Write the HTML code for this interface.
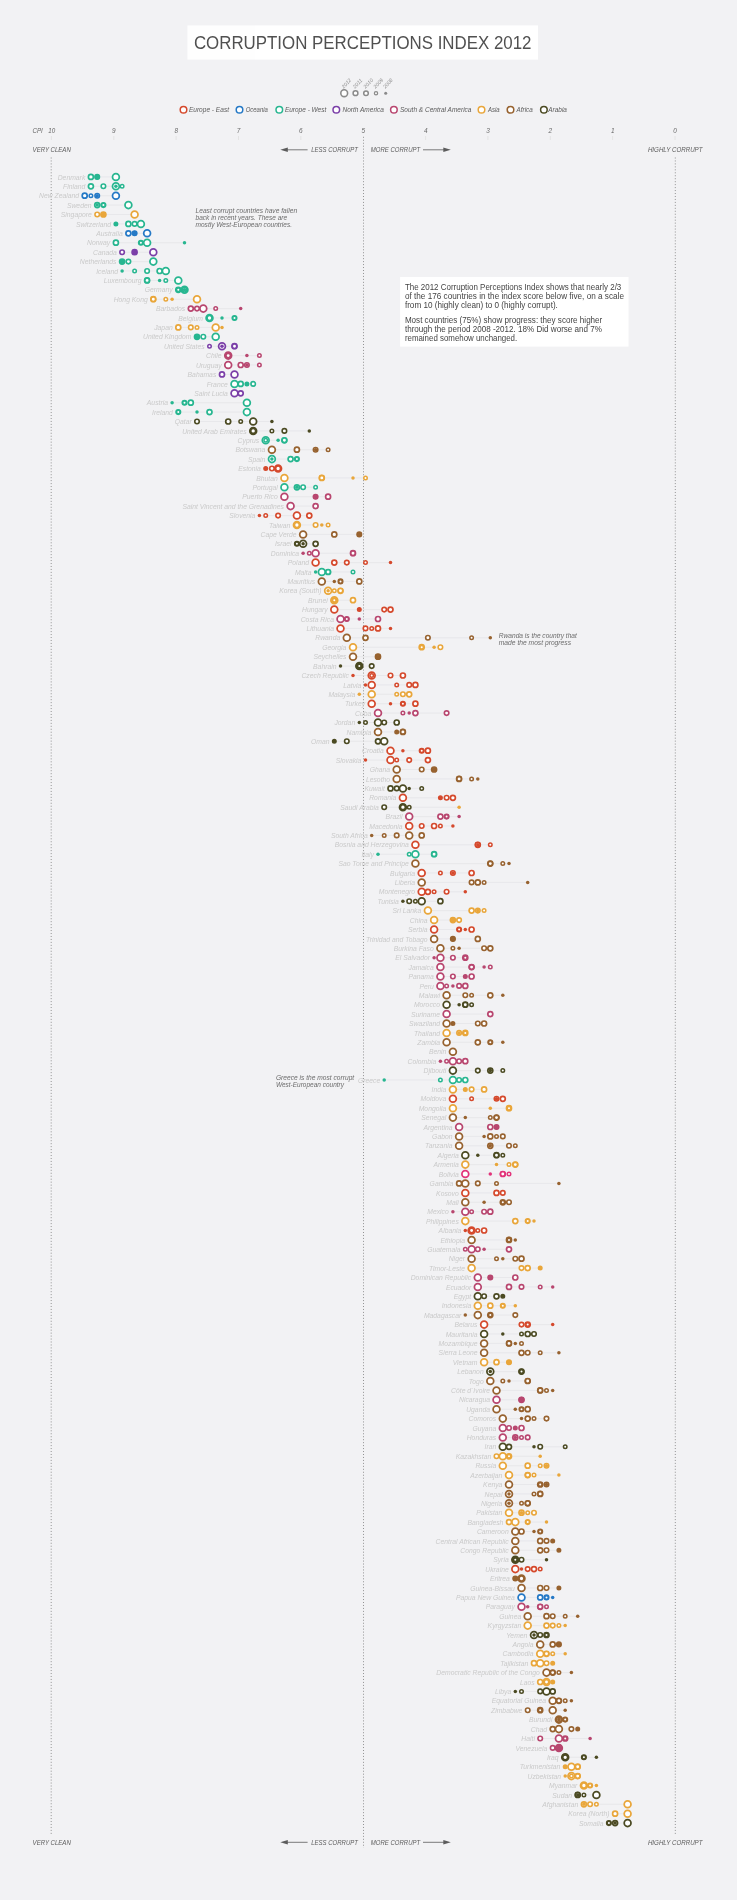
<!DOCTYPE html><html><head><meta charset="utf-8"><title>Corruption Perceptions Index 2012</title>
<style>html,body{margin:0;padding:0;background:#f2f2f4}svg{display:block;will-change:transform;opacity:0.999}text{font-family:"Liberation Sans",sans-serif}</style></head><body>
<svg width="737" height="1900" viewBox="0 0 737 1900">
<rect width="737" height="1900" fill="#f2f2f4"/>
<rect x="187.4" y="25.4" width="350.6" height="34.2" fill="#fff"/>
<text x="193.9" y="48.9" font-size="18" textLength="337.6" lengthAdjust="spacingAndGlyphs" fill="#505050">CORRUPTION PERCEPTIONS INDEX 2012</text>
<circle cx="344.2" cy="93.2" r="3.40" fill="#fff" stroke="#8a8a8a" stroke-width="1.6"/>
<circle cx="355.5" cy="93.2" r="2.40" fill="#fff" stroke="#8a8a8a" stroke-width="1.5"/>
<circle cx="366.0" cy="93.2" r="2.30" fill="#fff" stroke="#8a8a8a" stroke-width="1.5"/>
<circle cx="376.0" cy="93.2" r="1.60" fill="#fff" stroke="#8a8a8a" stroke-width="1.3"/>
<circle cx="385.7" cy="93.2" r="1.5" fill="#8a8a8a"/>
<text transform="translate(343.7,88.7) rotate(-46)" font-size="5.1" font-style="italic" fill="#8a8a8a">2012</text>
<text transform="translate(355.0,88.7) rotate(-46)" font-size="5.1" font-style="italic" fill="#8a8a8a">2011</text>
<text transform="translate(365.5,88.7) rotate(-46)" font-size="5.1" font-style="italic" fill="#8a8a8a">2010</text>
<text transform="translate(375.5,88.7) rotate(-46)" font-size="5.1" font-style="italic" fill="#8a8a8a">2009</text>
<text transform="translate(385.2,88.7) rotate(-46)" font-size="5.1" font-style="italic" fill="#8a8a8a">2008</text>
<circle cx="183.5" cy="109.8" r="3.3" fill="#fff" stroke="#d5492c" stroke-width="1.5"/>
<text x="188.9" y="112.3" font-size="7.1" font-style="italic" textLength="40.1" lengthAdjust="spacingAndGlyphs" fill="#5c5c5c">Europe - East</text>
<circle cx="239.5" cy="109.8" r="3.3" fill="#fff" stroke="#2579c6" stroke-width="1.5"/>
<text x="245.7" y="112.3" font-size="7.1" font-style="italic" textLength="22.2" lengthAdjust="spacingAndGlyphs" fill="#5c5c5c">Oceania</text>
<circle cx="279.3" cy="109.8" r="3.3" fill="#fff" stroke="#27b690" stroke-width="1.5"/>
<text x="284.9" y="112.3" font-size="7.1" font-style="italic" textLength="41.4" lengthAdjust="spacingAndGlyphs" fill="#5c5c5c">Europe - West</text>
<circle cx="336.3" cy="109.8" r="3.3" fill="#fff" stroke="#7b3fa8" stroke-width="1.5"/>
<text x="342.5" y="112.3" font-size="7.1" font-style="italic" textLength="41.4" lengthAdjust="spacingAndGlyphs" fill="#5c5c5c">North America</text>
<circle cx="393.9" cy="109.8" r="3.3" fill="#fff" stroke="#b8466f" stroke-width="1.5"/>
<text x="400.0" y="112.3" font-size="7.1" font-style="italic" textLength="71.5" lengthAdjust="spacingAndGlyphs" fill="#5c5c5c">South &amp; Central America</text>
<circle cx="481.5" cy="109.8" r="3.3" fill="#fff" stroke="#e9a63a" stroke-width="1.5"/>
<text x="487.9" y="112.3" font-size="7.1" font-style="italic" textLength="11.7" lengthAdjust="spacingAndGlyphs" fill="#5c5c5c">Asia</text>
<circle cx="510.5" cy="109.8" r="3.3" fill="#fff" stroke="#97622f" stroke-width="1.5"/>
<text x="516.6" y="112.3" font-size="7.1" font-style="italic" textLength="16.1" lengthAdjust="spacingAndGlyphs" fill="#5c5c5c">Africa</text>
<circle cx="543.9" cy="109.8" r="3.3" fill="#fff" stroke="#4b4a22" stroke-width="1.5"/>
<text x="548.3" y="112.3" font-size="7.1" font-style="italic" textLength="18.6" lengthAdjust="spacingAndGlyphs" fill="#5c5c5c">Arabia</text>
<text x="32.5" y="133.2" font-size="7.4" font-style="italic" textLength="10.3" lengthAdjust="spacingAndGlyphs" fill="#686868">CPI</text>
<text x="673.3" y="133.2" font-size="7.4" font-style="italic" textLength="3.6" lengthAdjust="spacingAndGlyphs" fill="#686868">0</text>
<line x1="675.0" y1="136" x2="675.0" y2="140" stroke="#e0e0e0" stroke-width="0.8"/>
<text x="610.9" y="133.2" font-size="7.4" font-style="italic" textLength="3.6" lengthAdjust="spacingAndGlyphs" fill="#686868">1</text>
<line x1="612.6" y1="136" x2="612.6" y2="140" stroke="#e0e0e0" stroke-width="0.8"/>
<text x="548.6" y="133.2" font-size="7.4" font-style="italic" textLength="3.6" lengthAdjust="spacingAndGlyphs" fill="#686868">2</text>
<line x1="550.3" y1="136" x2="550.3" y2="140" stroke="#e0e0e0" stroke-width="0.8"/>
<text x="486.2" y="133.2" font-size="7.4" font-style="italic" textLength="3.6" lengthAdjust="spacingAndGlyphs" fill="#686868">3</text>
<line x1="487.9" y1="136" x2="487.9" y2="140" stroke="#e0e0e0" stroke-width="0.8"/>
<text x="423.9" y="133.2" font-size="7.4" font-style="italic" textLength="3.6" lengthAdjust="spacingAndGlyphs" fill="#686868">4</text>
<line x1="425.6" y1="136" x2="425.6" y2="140" stroke="#e0e0e0" stroke-width="0.8"/>
<text x="361.5" y="133.2" font-size="7.4" font-style="italic" textLength="3.6" lengthAdjust="spacingAndGlyphs" fill="#686868">5</text>
<text x="299.1" y="133.2" font-size="7.4" font-style="italic" textLength="3.6" lengthAdjust="spacingAndGlyphs" fill="#686868">6</text>
<line x1="300.8" y1="136" x2="300.8" y2="140" stroke="#e0e0e0" stroke-width="0.8"/>
<text x="236.8" y="133.2" font-size="7.4" font-style="italic" textLength="3.6" lengthAdjust="spacingAndGlyphs" fill="#686868">7</text>
<line x1="238.5" y1="136" x2="238.5" y2="140" stroke="#e0e0e0" stroke-width="0.8"/>
<text x="174.4" y="133.2" font-size="7.4" font-style="italic" textLength="3.6" lengthAdjust="spacingAndGlyphs" fill="#686868">8</text>
<line x1="176.1" y1="136" x2="176.1" y2="140" stroke="#e0e0e0" stroke-width="0.8"/>
<text x="112.1" y="133.2" font-size="7.4" font-style="italic" textLength="3.6" lengthAdjust="spacingAndGlyphs" fill="#686868">9</text>
<line x1="113.8" y1="136" x2="113.8" y2="140" stroke="#e0e0e0" stroke-width="0.8"/>
<text x="48.3" y="133.2" font-size="7.4" font-style="italic" textLength="6.9" lengthAdjust="spacingAndGlyphs" fill="#686868">10</text>
<line x1="51.4" y1="136" x2="51.4" y2="140" stroke="#e0e0e0" stroke-width="0.8"/>
<line x1="51.2" y1="157.5" x2="51.2" y2="1835.6" stroke="#929292" stroke-width="1" stroke-dasharray="1 1.96"/>
<line x1="363.5" y1="136.8" x2="363.5" y2="1847.8" stroke="#929292" stroke-width="1" stroke-dasharray="1 1.96"/>
<line x1="675.3" y1="157.5" x2="675.3" y2="1835.6" stroke="#929292" stroke-width="1" stroke-dasharray="1 1.96"/>
<text x="32.6" y="152.3" font-size="7.8" font-style="italic" textLength="38.2" lengthAdjust="spacingAndGlyphs" fill="#5c5c5c">VERY CLEAN</text>
<text x="311.2" y="152.3" font-size="7.8" font-style="italic" textLength="46.7" lengthAdjust="spacingAndGlyphs" fill="#5c5c5c">LESS CORRUPT</text>
<text x="370.7" y="152.3" font-size="7.8" font-style="italic" textLength="49.5" lengthAdjust="spacingAndGlyphs" fill="#5c5c5c">MORE CORRUPT</text>
<text x="647.9" y="152.3" font-size="7.8" font-style="italic" textLength="54.6" lengthAdjust="spacingAndGlyphs" fill="#5c5c5c">HIGHLY CORRUPT</text>
<line x1="286" y1="149.8" x2="307.6" y2="149.8" stroke="#5c5c5c" stroke-width="0.8"/>
<path d="M280.3 149.8 l7.5 -2.2 v4.4z" fill="#5c5c5c"/>
<line x1="423" y1="149.8" x2="445" y2="149.8" stroke="#5c5c5c" stroke-width="0.8"/>
<path d="M450.8 149.8 l-7.5 -2.2 v4.4z" fill="#5c5c5c"/>
<text x="32.6" y="1844.8" font-size="7.8" font-style="italic" textLength="38.2" lengthAdjust="spacingAndGlyphs" fill="#5c5c5c">VERY CLEAN</text>
<text x="311.2" y="1844.8" font-size="7.8" font-style="italic" textLength="46.7" lengthAdjust="spacingAndGlyphs" fill="#5c5c5c">LESS CORRUPT</text>
<text x="370.7" y="1844.8" font-size="7.8" font-style="italic" textLength="49.5" lengthAdjust="spacingAndGlyphs" fill="#5c5c5c">MORE CORRUPT</text>
<text x="647.9" y="1844.8" font-size="7.8" font-style="italic" textLength="54.6" lengthAdjust="spacingAndGlyphs" fill="#5c5c5c">HIGHLY CORRUPT</text>
<line x1="286" y1="1842.3" x2="307.6" y2="1842.3" stroke="#5c5c5c" stroke-width="0.8"/>
<path d="M280.3 1842.3 l7.5 -2.2 v4.4z" fill="#5c5c5c"/>
<line x1="423" y1="1842.3" x2="445" y2="1842.3" stroke="#5c5c5c" stroke-width="0.8"/>
<path d="M450.8 1842.3 l-7.5 -2.2 v4.4z" fill="#5c5c5c"/>
<text x="195.5" y="212.9" font-size="6.9" font-style="italic" textLength="101.6" lengthAdjust="spacingAndGlyphs" fill="#6c6c6c">Least corrupt countries have fallen</text>
<text x="195.5" y="220.0" font-size="6.9" font-style="italic" textLength="91.7" lengthAdjust="spacingAndGlyphs" fill="#6c6c6c">back in recent years. These are</text>
<text x="195.5" y="227.1" font-size="6.9" font-style="italic" textLength="96.6" lengthAdjust="spacingAndGlyphs" fill="#6c6c6c">mostly West-European countries.</text>
<text x="498.8" y="637.8" font-size="6.9" font-style="italic" textLength="78.0" lengthAdjust="spacingAndGlyphs" fill="#6c6c6c">Rwanda is the country that</text>
<text x="498.8" y="644.9" font-size="6.9" font-style="italic" textLength="72.2" lengthAdjust="spacingAndGlyphs" fill="#6c6c6c">made the most progress</text>
<text x="275.9" y="1079.9" font-size="6.9" font-style="italic" textLength="78.3" lengthAdjust="spacingAndGlyphs" fill="#6c6c6c">Greece is the most corrupt</text>
<text x="275.9" y="1087.0" font-size="6.9" font-style="italic" textLength="68.1" lengthAdjust="spacingAndGlyphs" fill="#6c6c6c">West-European country</text>
<rect x="400.1" y="277.0" width="228.4" height="69.6" fill="#fff"/>
<text x="404.9" y="289.9" font-size="8.6" textLength="216.4" lengthAdjust="spacingAndGlyphs" fill="#444">The 2012 Corruption Perceptions Index shows that nearly 2/3</text>
<text x="404.9" y="298.7" font-size="8.6" textLength="219.1" lengthAdjust="spacingAndGlyphs" fill="#444">of the 176 countries in the index score below five, on a scale</text>
<text x="404.9" y="307.5" font-size="8.6" textLength="153.0" lengthAdjust="spacingAndGlyphs" fill="#444">from 10 (highly clean) to 0 (highly corrupt).</text>
<text x="404.9" y="323.1" font-size="8.6" textLength="197.4" lengthAdjust="spacingAndGlyphs" fill="#444">Most countries (75%) show progress: they score higher</text>
<text x="404.9" y="331.9" font-size="8.6" textLength="197.1" lengthAdjust="spacingAndGlyphs" fill="#444">through the period 2008 -2012. 18% Did worse and 7%</text>
<text x="404.9" y="340.7" font-size="8.6" textLength="112.3" lengthAdjust="spacingAndGlyphs" fill="#444">remained somehow unchanged.</text>
<path d="M90.9 176.9H115.9M90.9 186.3H122.1M84.7 195.7H115.9M97.2 205.1H128.4M97.2 214.5H134.6M115.9 223.9H140.9M128.4 233.3H147.1M115.9 242.7H184.5M122.1 252.2H153.3M122.1 261.6H153.3M122.1 271.0H165.8M147.1 280.4H178.3M178.3 289.8H184.5M153.3 299.2H197.0M190.8 308.6H240.7M209.5 318.0H234.5M178.3 327.4H222.0M197.0 336.8H215.7M209.5 346.2H234.5M228.2 355.6H259.4M228.2 365.0H259.4M222.0 374.4H234.5M234.5 383.9H253.2M234.5 393.3H240.7M172.1 402.7H246.9M178.3 412.1H246.9M197.0 421.5H271.9M253.2 430.9H309.3M265.7 440.3H284.4M271.9 449.7H328.1M271.9 459.1H296.9M265.7 468.5H278.1M284.4 477.9H365.5M284.4 487.3H315.6M284.4 496.7H328.1M290.6 506.1H315.6M259.4 515.6H309.3M296.9 525.0H328.1M303.1 534.4H359.3M296.9 543.8H315.6M303.1 553.2H353.0M315.6 562.6H390.5M315.6 572.0H353.0M321.8 581.4H359.3M328.1 590.8H340.5M334.3 600.2H353.0M334.3 609.6H390.5M340.5 619.0H378.0M340.5 628.4H390.5M346.8 637.8H490.3M353.0 647.2H440.4M353.0 656.7H378.0M340.5 666.1H371.7M353.0 675.5H402.9M365.5 684.9H415.4M359.3 694.3H409.2M371.7 703.7H415.4M378.0 713.1H446.6M359.3 722.5H396.7M378.0 731.9H402.9M334.3 741.3H384.2M390.5 750.7H427.9M365.5 760.1H427.9M396.7 769.5H434.1M396.7 778.9H477.8M390.5 788.4H421.7M402.9 797.8H452.9M384.2 807.2H459.1M409.2 816.6H459.1M409.2 826.0H452.9M371.7 835.4H421.7M415.4 844.8H490.3M378.0 854.2H434.1M415.4 863.6H509.0M421.7 873.0H471.6M421.7 882.4H527.7M421.7 891.8H465.3M402.9 901.2H440.4M427.9 910.6H484.1M434.1 920.1H459.1M434.1 929.5H471.6M434.1 938.9H477.8M440.4 948.3H490.3M434.1 957.7H465.3M440.4 967.1H490.3M440.4 976.5H471.6M440.4 985.9H465.3M446.6 995.3H502.8M446.6 1004.7H471.6M446.6 1014.1H490.3M446.6 1023.5H484.1M446.6 1032.9H465.3M446.6 1042.3H502.8M440.4 1061.2H465.3M452.9 1070.6H502.8M384.2 1080.0H465.3M452.9 1089.4H484.1M452.9 1098.8H502.8M452.9 1108.2H509.0M452.9 1117.6H496.5M459.1 1127.0H496.5M459.1 1136.4H502.8M459.1 1145.8H515.3M465.3 1155.2H502.8M465.3 1164.6H515.3M465.3 1174.0H509.0M459.1 1183.4H558.9M465.3 1192.9H502.8M465.3 1202.3H509.0M452.9 1211.7H490.3M465.3 1221.1H534.0M465.3 1230.5H484.1M471.6 1239.9H515.3M465.3 1249.3H509.0M471.6 1258.7H521.5M471.6 1268.1H540.2M477.8 1277.5H515.3M477.8 1286.9H552.7M477.8 1296.3H502.8M477.8 1305.7H515.3M465.3 1315.1H515.3M484.1 1324.6H552.7M484.1 1334.0H534.0M484.1 1343.4H521.5M484.1 1352.8H558.9M484.1 1362.2H509.0M490.3 1371.6H521.5M490.3 1381.0H527.7M496.5 1390.4H552.7M496.5 1399.8H521.5M496.5 1409.2H527.7M502.8 1418.6H546.5M502.8 1428.0H521.5M502.8 1437.4H527.7M502.8 1446.8H565.2M496.5 1456.3H540.2M502.8 1465.7H546.5M509.0 1475.1H558.9M509.0 1484.5H546.5M509.0 1493.9H540.2M509.0 1503.3H527.7M509.0 1512.7H534.0M509.0 1522.1H546.5M515.3 1531.5H540.2M515.3 1540.9H552.7M515.3 1550.3H558.9M515.3 1559.7H546.5M515.3 1569.1H540.2M515.3 1578.5H521.5M521.5 1588.0H558.9M521.5 1597.4H552.7M521.5 1606.8H546.5M527.7 1616.2H577.7M527.7 1625.6H565.2M534.0 1635.0H546.5M540.2 1644.4H558.9M540.2 1653.8H565.2M534.0 1663.2H552.7M546.5 1672.6H571.4M540.2 1682.0H552.7M515.3 1691.4H552.7M552.7 1700.8H571.4M527.7 1710.2H565.2M558.9 1719.6H565.2M552.7 1729.1H577.7M540.2 1738.5H590.1M552.7 1747.9H558.9M565.2 1757.3H596.4M565.2 1766.7H577.7M565.2 1776.1H577.7M583.9 1785.5H596.4M577.7 1794.9H596.4M583.9 1804.3H627.6M615.1 1813.7H627.6M608.9 1823.1H627.6" stroke="#e4e4e6" stroke-width="0.7" fill="none"/>
<g font-size="7.6" font-style="italic" fill="#cacaca" text-anchor="end" lengthAdjust="spacingAndGlyphs">
<text lengthAdjust="spacingAndGlyphs" x="85.3" y="179.5" textLength="27.6">Denmark</text>
<text lengthAdjust="spacingAndGlyphs" x="85.3" y="188.9" textLength="22.3">Finland</text>
<text lengthAdjust="spacingAndGlyphs" x="79.1" y="198.3" textLength="40.1">New Zealand</text>
<text lengthAdjust="spacingAndGlyphs" x="91.5" y="207.7" textLength="24.6">Sweden</text>
<text lengthAdjust="spacingAndGlyphs" x="91.8" y="217.1" textLength="31.0">Singapore</text>
<text lengthAdjust="spacingAndGlyphs" x="111.1" y="226.5" textLength="35.2">Switzerland</text>
<text lengthAdjust="spacingAndGlyphs" x="122.7" y="235.9" textLength="26.5">Australia</text>
<text lengthAdjust="spacingAndGlyphs" x="110.2" y="245.3" textLength="23.1">Norway</text>
<text lengthAdjust="spacingAndGlyphs" x="116.8" y="254.8" textLength="23.8">Canada</text>
<text lengthAdjust="spacingAndGlyphs" x="116.5" y="264.2" textLength="36.7">Netherlands</text>
<text lengthAdjust="spacingAndGlyphs" x="118.1" y="273.6" textLength="21.9">Iceland</text>
<text lengthAdjust="spacingAndGlyphs" x="141.5" y="283.0" textLength="37.8">Luxembourg</text>
<text lengthAdjust="spacingAndGlyphs" x="172.7" y="292.4" textLength="28.0">Germany</text>
<text lengthAdjust="spacingAndGlyphs" x="147.7" y="301.8" textLength="34.0">Hong Kong</text>
<text lengthAdjust="spacingAndGlyphs" x="185.1" y="311.2" textLength="29.1">Barbados</text>
<text lengthAdjust="spacingAndGlyphs" x="202.9" y="320.6" textLength="24.6">Belgium</text>
<text lengthAdjust="spacingAndGlyphs" x="172.7" y="330.0" textLength="18.5">Japan</text>
<text lengthAdjust="spacingAndGlyphs" x="191.4" y="339.4" textLength="48.4">United Kingdom</text>
<text lengthAdjust="spacingAndGlyphs" x="204.7" y="348.8" textLength="40.8">United States</text>
<text lengthAdjust="spacingAndGlyphs" x="221.6" y="358.2" textLength="15.5">Chile</text>
<text lengthAdjust="spacingAndGlyphs" x="221.6" y="367.6" textLength="25.7">Uruguay</text>
<text lengthAdjust="spacingAndGlyphs" x="216.3" y="377.0" textLength="28.7">Bahamas</text>
<text lengthAdjust="spacingAndGlyphs" x="227.9" y="386.5" textLength="21.2">France</text>
<text lengthAdjust="spacingAndGlyphs" x="227.9" y="395.9" textLength="33.6">Saint Lucia</text>
<text lengthAdjust="spacingAndGlyphs" x="168.0" y="405.3" textLength="21.2">Austria</text>
<text lengthAdjust="spacingAndGlyphs" x="172.9" y="414.7" textLength="20.8">Ireland</text>
<text lengthAdjust="spacingAndGlyphs" x="191.7" y="424.1" textLength="17.0">Qatar</text>
<text lengthAdjust="spacingAndGlyphs" x="246.6" y="433.5" textLength="64.4">United Arab Emirates</text>
<text lengthAdjust="spacingAndGlyphs" x="259.1" y="442.9" textLength="21.5">Cyprus</text>
<text lengthAdjust="spacingAndGlyphs" x="265.3" y="452.3" textLength="29.9">Botswana</text>
<text lengthAdjust="spacingAndGlyphs" x="265.3" y="461.7" textLength="17.4">Spain</text>
<text lengthAdjust="spacingAndGlyphs" x="260.9" y="471.1" textLength="22.7">Estonia</text>
<text lengthAdjust="spacingAndGlyphs" x="277.8" y="480.5" textLength="21.6">Bhutan</text>
<text lengthAdjust="spacingAndGlyphs" x="277.8" y="489.9" textLength="25.3">Portugal</text>
<text lengthAdjust="spacingAndGlyphs" x="277.8" y="499.3" textLength="35.5">Puerto Rico</text>
<text lengthAdjust="spacingAndGlyphs" x="284.0" y="508.7" textLength="101.6">Saint Vincent and the Grenadines</text>
<text lengthAdjust="spacingAndGlyphs" x="255.4" y="518.2" textLength="26.1">Slovenia</text>
<text lengthAdjust="spacingAndGlyphs" x="290.3" y="527.6" textLength="21.3">Taiwan</text>
<text lengthAdjust="spacingAndGlyphs" x="296.5" y="537.0" textLength="36.0">Cape Verde</text>
<text lengthAdjust="spacingAndGlyphs" x="291.5" y="546.4" textLength="16.6">Israel</text>
<text lengthAdjust="spacingAndGlyphs" x="299.1" y="555.8" textLength="28.3">Dominica</text>
<text lengthAdjust="spacingAndGlyphs" x="309.0" y="565.2" textLength="21.2">Poland</text>
<text lengthAdjust="spacingAndGlyphs" x="311.5" y="574.6" textLength="16.6">Malta</text>
<text lengthAdjust="spacingAndGlyphs" x="315.2" y="584.0" textLength="27.6">Mauritius</text>
<text lengthAdjust="spacingAndGlyphs" x="321.5" y="593.4" textLength="42.3">Korea (South)</text>
<text lengthAdjust="spacingAndGlyphs" x="327.7" y="602.8" textLength="19.7">Brunei</text>
<text lengthAdjust="spacingAndGlyphs" x="327.7" y="612.2" textLength="25.7">Hungary</text>
<text lengthAdjust="spacingAndGlyphs" x="334.0" y="621.6" textLength="33.3">Costa Rica</text>
<text lengthAdjust="spacingAndGlyphs" x="334.0" y="631.0" textLength="27.6">Lithuania</text>
<text lengthAdjust="spacingAndGlyphs" x="340.2" y="640.4" textLength="24.9">Rwanda</text>
<text lengthAdjust="spacingAndGlyphs" x="346.4" y="649.9" textLength="24.2">Georgia</text>
<text lengthAdjust="spacingAndGlyphs" x="346.4" y="659.3" textLength="32.9">Seychelles</text>
<text lengthAdjust="spacingAndGlyphs" x="336.5" y="668.7" textLength="23.4">Bahrain</text>
<text lengthAdjust="spacingAndGlyphs" x="349.0" y="678.1" textLength="47.6">Czech Republic</text>
<text lengthAdjust="spacingAndGlyphs" x="361.4" y="687.5" textLength="18.1">Latvia</text>
<text lengthAdjust="spacingAndGlyphs" x="355.2" y="696.9" textLength="26.8">Malaysia</text>
<text lengthAdjust="spacingAndGlyphs" x="365.2" y="706.3" textLength="20.3">Turkey</text>
<text lengthAdjust="spacingAndGlyphs" x="371.4" y="715.7" textLength="16.3">Cuba</text>
<text lengthAdjust="spacingAndGlyphs" x="355.2" y="725.1" textLength="20.8">Jordan</text>
<text lengthAdjust="spacingAndGlyphs" x="371.4" y="734.5" textLength="24.9">Namibia</text>
<text lengthAdjust="spacingAndGlyphs" x="329.5" y="743.9" textLength="18.5">Oman</text>
<text lengthAdjust="spacingAndGlyphs" x="383.9" y="753.3" textLength="21.9">Croatia</text>
<text lengthAdjust="spacingAndGlyphs" x="361.4" y="762.7" textLength="25.7">Slovakia</text>
<text lengthAdjust="spacingAndGlyphs" x="390.1" y="772.1" textLength="20.4">Ghana</text>
<text lengthAdjust="spacingAndGlyphs" x="390.1" y="781.5" textLength="24.2">Lesotho</text>
<text lengthAdjust="spacingAndGlyphs" x="384.8" y="791.0" textLength="20.4">Kuwait</text>
<text lengthAdjust="spacingAndGlyphs" x="396.4" y="800.4" textLength="27.2">Romania</text>
<text lengthAdjust="spacingAndGlyphs" x="378.9" y="809.8" textLength="38.7">Saudi Arabia</text>
<text lengthAdjust="spacingAndGlyphs" x="402.6" y="819.2" textLength="17.0">Brazil</text>
<text lengthAdjust="spacingAndGlyphs" x="402.6" y="828.6" textLength="33.3">Macedonia</text>
<text lengthAdjust="spacingAndGlyphs" x="367.7" y="838.0" textLength="36.8">South Africa</text>
<text lengthAdjust="spacingAndGlyphs" x="408.8" y="847.4" textLength="74.1">Bosnia and Herzegovina</text>
<text lengthAdjust="spacingAndGlyphs" x="373.9" y="856.8" textLength="12.5">Italy</text>
<text lengthAdjust="spacingAndGlyphs" x="408.8" y="866.2" textLength="70.4">Sao Tome and Principe</text>
<text lengthAdjust="spacingAndGlyphs" x="415.1" y="875.6" textLength="25.0">Bulgaria</text>
<text lengthAdjust="spacingAndGlyphs" x="415.1" y="885.0" textLength="20.4">Liberia</text>
<text lengthAdjust="spacingAndGlyphs" x="415.1" y="894.4" textLength="36.3">Montenegro</text>
<text lengthAdjust="spacingAndGlyphs" x="398.9" y="903.8" textLength="21.4">Tunisia</text>
<text lengthAdjust="spacingAndGlyphs" x="421.3" y="913.2" textLength="28.7">Sri Lanka</text>
<text lengthAdjust="spacingAndGlyphs" x="427.6" y="922.7" textLength="17.8">China</text>
<text lengthAdjust="spacingAndGlyphs" x="427.6" y="932.1" textLength="19.7">Serbia</text>
<text lengthAdjust="spacingAndGlyphs" x="427.6" y="941.5" textLength="61.6">Trinidad and Tobago</text>
<text lengthAdjust="spacingAndGlyphs" x="433.8" y="950.9" textLength="40.1">Burkina Faso</text>
<text lengthAdjust="spacingAndGlyphs" x="430.1" y="960.3" textLength="34.8">El Salvador</text>
<text lengthAdjust="spacingAndGlyphs" x="433.8" y="969.7" textLength="25.3">Jamaica</text>
<text lengthAdjust="spacingAndGlyphs" x="433.8" y="979.1" textLength="25.3">Panama</text>
<text lengthAdjust="spacingAndGlyphs" x="433.8" y="988.5" textLength="14.4">Peru</text>
<text lengthAdjust="spacingAndGlyphs" x="440.0" y="997.9" textLength="21.2">Malawi</text>
<text lengthAdjust="spacingAndGlyphs" x="440.0" y="1007.3" textLength="26.1">Morocco</text>
<text lengthAdjust="spacingAndGlyphs" x="440.0" y="1016.7" textLength="29.1">Suriname</text>
<text lengthAdjust="spacingAndGlyphs" x="440.0" y="1026.1" textLength="31.0">Swaziland</text>
<text lengthAdjust="spacingAndGlyphs" x="440.0" y="1035.5" textLength="26.1">Thailand</text>
<text lengthAdjust="spacingAndGlyphs" x="440.0" y="1044.9" textLength="22.7">Zambia</text>
<text lengthAdjust="spacingAndGlyphs" x="446.3" y="1054.4" textLength="17.4">Benin</text>
<text lengthAdjust="spacingAndGlyphs" x="436.3" y="1063.8" textLength="28.7">Colombia</text>
<text lengthAdjust="spacingAndGlyphs" x="446.3" y="1073.2" textLength="22.7">Djibouti</text>
<text lengthAdjust="spacingAndGlyphs" x="380.2" y="1082.6" textLength="22.3">Greece</text>
<text lengthAdjust="spacingAndGlyphs" x="446.3" y="1092.0" textLength="14.7">India</text>
<text lengthAdjust="spacingAndGlyphs" x="446.3" y="1101.4" textLength="25.7">Moldova</text>
<text lengthAdjust="spacingAndGlyphs" x="446.3" y="1110.8" textLength="27.6">Mongolia</text>
<text lengthAdjust="spacingAndGlyphs" x="446.3" y="1120.2" textLength="25.0">Senegal</text>
<text lengthAdjust="spacingAndGlyphs" x="452.5" y="1129.6" textLength="29.1">Argentina</text>
<text lengthAdjust="spacingAndGlyphs" x="452.5" y="1139.0" textLength="20.4">Gabon</text>
<text lengthAdjust="spacingAndGlyphs" x="452.5" y="1148.4" textLength="27.4">Tanzania</text>
<text lengthAdjust="spacingAndGlyphs" x="458.8" y="1157.8" textLength="21.2">Algeria</text>
<text lengthAdjust="spacingAndGlyphs" x="458.8" y="1167.2" textLength="25.3">Armenia</text>
<text lengthAdjust="spacingAndGlyphs" x="458.8" y="1176.6" textLength="20.0">Bolivia</text>
<text lengthAdjust="spacingAndGlyphs" x="453.4" y="1186.0" textLength="23.8">Gambia</text>
<text lengthAdjust="spacingAndGlyphs" x="458.8" y="1195.5" textLength="22.7">Kosovo</text>
<text lengthAdjust="spacingAndGlyphs" x="458.8" y="1204.9" textLength="12.5">Mali</text>
<text lengthAdjust="spacingAndGlyphs" x="448.8" y="1214.3" textLength="21.5">Mexico</text>
<text lengthAdjust="spacingAndGlyphs" x="458.8" y="1223.7" textLength="32.9">Philippines</text>
<text lengthAdjust="spacingAndGlyphs" x="461.3" y="1233.1" textLength="22.7">Albania</text>
<text lengthAdjust="spacingAndGlyphs" x="465.0" y="1242.5" textLength="24.6">Ethiopia</text>
<text lengthAdjust="spacingAndGlyphs" x="460.5" y="1251.9" textLength="33.3">Guatemala</text>
<text lengthAdjust="spacingAndGlyphs" x="465.0" y="1261.3" textLength="16.3">Niger</text>
<text lengthAdjust="spacingAndGlyphs" x="465.0" y="1270.7" textLength="36.1">Timor-Leste</text>
<text lengthAdjust="spacingAndGlyphs" x="471.2" y="1280.1" textLength="60.5">Dominican Republic</text>
<text lengthAdjust="spacingAndGlyphs" x="471.2" y="1289.5" textLength="25.3">Ecuador</text>
<text lengthAdjust="spacingAndGlyphs" x="471.2" y="1298.9" textLength="17.4">Egypt</text>
<text lengthAdjust="spacingAndGlyphs" x="471.2" y="1308.3" textLength="29.5">Indonesia</text>
<text lengthAdjust="spacingAndGlyphs" x="461.3" y="1317.7" textLength="37.4">Madagascar</text>
<text lengthAdjust="spacingAndGlyphs" x="477.5" y="1327.2" textLength="23.1">Belarus</text>
<text lengthAdjust="spacingAndGlyphs" x="477.5" y="1336.6" textLength="31.8">Mauritania</text>
<text lengthAdjust="spacingAndGlyphs" x="477.5" y="1346.0" textLength="38.9">Mozambique</text>
<text lengthAdjust="spacingAndGlyphs" x="477.5" y="1355.4" textLength="38.9">Sierra Leone</text>
<text lengthAdjust="spacingAndGlyphs" x="477.5" y="1364.8" textLength="24.8">Vietnam</text>
<text lengthAdjust="spacingAndGlyphs" x="483.7" y="1374.2" textLength="26.5">Lebanon</text>
<text lengthAdjust="spacingAndGlyphs" x="483.7" y="1383.6" textLength="14.9">Togo</text>
<text lengthAdjust="spacingAndGlyphs" x="490.0" y="1393.0" textLength="38.9">Côte d´Ivoire</text>
<text lengthAdjust="spacingAndGlyphs" x="490.0" y="1402.4" textLength="31.0">Nicaragua</text>
<text lengthAdjust="spacingAndGlyphs" x="490.0" y="1411.8" textLength="23.8">Uganda</text>
<text lengthAdjust="spacingAndGlyphs" x="496.2" y="1421.2" textLength="27.6">Comoros</text>
<text lengthAdjust="spacingAndGlyphs" x="496.2" y="1430.6" textLength="23.8">Guyana</text>
<text lengthAdjust="spacingAndGlyphs" x="496.2" y="1440.0" textLength="29.5">Honduras</text>
<text lengthAdjust="spacingAndGlyphs" x="496.2" y="1449.4" textLength="11.7">Iran</text>
<text lengthAdjust="spacingAndGlyphs" x="491.2" y="1458.9" textLength="35.5">Kazakhstan</text>
<text lengthAdjust="spacingAndGlyphs" x="496.2" y="1468.3" textLength="20.8">Russia</text>
<text lengthAdjust="spacingAndGlyphs" x="502.4" y="1477.7" textLength="32.1">Azerbaijan</text>
<text lengthAdjust="spacingAndGlyphs" x="502.4" y="1487.1" textLength="19.3">Kenya</text>
<text lengthAdjust="spacingAndGlyphs" x="502.4" y="1496.5" textLength="17.8">Nepal</text>
<text lengthAdjust="spacingAndGlyphs" x="502.4" y="1505.9" textLength="21.5">Nigeria</text>
<text lengthAdjust="spacingAndGlyphs" x="502.4" y="1515.3" textLength="26.1">Pakistan</text>
<text lengthAdjust="spacingAndGlyphs" x="503.4" y="1524.7" textLength="35.9">Bangladesh</text>
<text lengthAdjust="spacingAndGlyphs" x="508.7" y="1534.1" textLength="31.8">Cameroon</text>
<text lengthAdjust="spacingAndGlyphs" x="508.7" y="1543.5" textLength="73.1">Central African Republic</text>
<text lengthAdjust="spacingAndGlyphs" x="508.7" y="1552.9" textLength="48.4">Congo Republic</text>
<text lengthAdjust="spacingAndGlyphs" x="508.7" y="1562.3" textLength="15.5">Syria</text>
<text lengthAdjust="spacingAndGlyphs" x="508.7" y="1571.7" textLength="23.4">Ukraine</text>
<text lengthAdjust="spacingAndGlyphs" x="509.9" y="1581.1" textLength="20.0">Eritrea</text>
<text lengthAdjust="spacingAndGlyphs" x="514.9" y="1590.5" textLength="44.6">Guinea-Bissau</text>
<text lengthAdjust="spacingAndGlyphs" x="514.9" y="1600.0" textLength="59.0">Papua New Guinea</text>
<text lengthAdjust="spacingAndGlyphs" x="514.9" y="1609.4" textLength="29.1">Paraguay</text>
<text lengthAdjust="spacingAndGlyphs" x="521.2" y="1618.8" textLength="21.9">Guinea</text>
<text lengthAdjust="spacingAndGlyphs" x="521.2" y="1628.2" textLength="33.6">Kyrgyzstan</text>
<text lengthAdjust="spacingAndGlyphs" x="527.4" y="1637.6" textLength="21.2">Yemen</text>
<text lengthAdjust="spacingAndGlyphs" x="533.6" y="1647.0" textLength="21.2">Angola</text>
<text lengthAdjust="spacingAndGlyphs" x="533.6" y="1656.4" textLength="31.0">Cambodia</text>
<text lengthAdjust="spacingAndGlyphs" x="528.3" y="1665.8" textLength="28.1">Tajikistan</text>
<text lengthAdjust="spacingAndGlyphs" x="539.9" y="1675.2" textLength="103.6">Democratic Republic of the Congo</text>
<text lengthAdjust="spacingAndGlyphs" x="534.6" y="1684.6" textLength="14.7">Laos</text>
<text lengthAdjust="spacingAndGlyphs" x="511.2" y="1694.0" textLength="16.3">Libya</text>
<text lengthAdjust="spacingAndGlyphs" x="546.1" y="1703.4" textLength="54.4">Equatorial Guinea</text>
<text lengthAdjust="spacingAndGlyphs" x="522.4" y="1712.8" textLength="31.4">Zimbabwe</text>
<text lengthAdjust="spacingAndGlyphs" x="552.4" y="1722.2" textLength="23.4">Burundi</text>
<text lengthAdjust="spacingAndGlyphs" x="547.1" y="1731.7" textLength="16.3">Chad</text>
<text lengthAdjust="spacingAndGlyphs" x="534.9" y="1741.1" textLength="13.6">Haiti</text>
<text lengthAdjust="spacingAndGlyphs" x="547.4" y="1750.5" textLength="31.9">Venezuela</text>
<text lengthAdjust="spacingAndGlyphs" x="558.6" y="1759.9" textLength="11.7">Iraq</text>
<text lengthAdjust="spacingAndGlyphs" x="560.4" y="1769.3" textLength="40.7">Turkmenistan</text>
<text lengthAdjust="spacingAndGlyphs" x="561.1" y="1778.7" textLength="33.6">Uzbekistan</text>
<text lengthAdjust="spacingAndGlyphs" x="577.3" y="1788.1" textLength="28.3">Myanmar</text>
<text lengthAdjust="spacingAndGlyphs" x="572.0" y="1797.5" textLength="19.7">Sudan</text>
<text lengthAdjust="spacingAndGlyphs" x="578.2" y="1806.9" textLength="35.9">Afghanistan</text>
<text lengthAdjust="spacingAndGlyphs" x="609.5" y="1816.3" textLength="41.2">Korea (North)</text>
<text lengthAdjust="spacingAndGlyphs" x="603.5" y="1825.7" textLength="24.6">Somalia</text>
</g>
<g>
<circle cx="115.9" cy="176.9" r="3.4" fill="#fff" stroke="#27b690" stroke-width="1.75"/>
<circle cx="90.9" cy="176.9" r="2.5" fill="#fff" stroke="#27b690" stroke-width="1.7"/>
<circle cx="97.2" cy="176.9" r="2.25" fill="#fff" stroke="#27b690" stroke-width="1.6"/>
<circle cx="97.2" cy="176.9" r="1.75" fill="#fff" stroke="#27b690" stroke-width="1.5"/>
<circle cx="97.2" cy="176.9" r="1.75" fill="#27b690"/>
<circle cx="115.9" cy="186.3" r="3.4" fill="#fff" stroke="#27b690" stroke-width="1.75"/>
<circle cx="90.9" cy="186.3" r="2.5" fill="#fff" stroke="#27b690" stroke-width="1.7"/>
<circle cx="103.4" cy="186.3" r="2.25" fill="#fff" stroke="#27b690" stroke-width="1.6"/>
<circle cx="122.1" cy="186.3" r="1.75" fill="#fff" stroke="#27b690" stroke-width="1.5"/>
<circle cx="115.9" cy="186.3" r="1.75" fill="#27b690"/>
<circle cx="115.9" cy="195.7" r="3.4" fill="#fff" stroke="#2579c6" stroke-width="1.75"/>
<circle cx="84.7" cy="195.7" r="2.5" fill="#fff" stroke="#2579c6" stroke-width="1.7"/>
<circle cx="97.2" cy="195.7" r="2.25" fill="#fff" stroke="#2579c6" stroke-width="1.6"/>
<circle cx="90.9" cy="195.7" r="1.75" fill="#fff" stroke="#2579c6" stroke-width="1.5"/>
<circle cx="97.2" cy="195.7" r="1.75" fill="#2579c6"/>
<circle cx="128.4" cy="205.1" r="3.4" fill="#fff" stroke="#27b690" stroke-width="1.75"/>
<circle cx="97.2" cy="205.1" r="2.5" fill="#fff" stroke="#27b690" stroke-width="1.7"/>
<circle cx="103.4" cy="205.1" r="2.25" fill="#fff" stroke="#27b690" stroke-width="1.6"/>
<circle cx="103.4" cy="205.1" r="1.75" fill="#fff" stroke="#27b690" stroke-width="1.5"/>
<circle cx="97.2" cy="205.1" r="1.75" fill="#27b690"/>
<circle cx="134.6" cy="214.5" r="3.4" fill="#fff" stroke="#e9a63a" stroke-width="1.75"/>
<circle cx="103.4" cy="214.5" r="2.5" fill="#fff" stroke="#e9a63a" stroke-width="1.7"/>
<circle cx="97.2" cy="214.5" r="2.25" fill="#fff" stroke="#e9a63a" stroke-width="1.6"/>
<circle cx="103.4" cy="214.5" r="1.75" fill="#fff" stroke="#e9a63a" stroke-width="1.5"/>
<circle cx="103.4" cy="214.5" r="1.75" fill="#e9a63a"/>
<circle cx="140.9" cy="223.9" r="3.4" fill="#fff" stroke="#27b690" stroke-width="1.75"/>
<circle cx="128.4" cy="223.9" r="2.5" fill="#fff" stroke="#27b690" stroke-width="1.7"/>
<circle cx="134.6" cy="223.9" r="2.25" fill="#fff" stroke="#27b690" stroke-width="1.6"/>
<circle cx="115.9" cy="223.9" r="1.75" fill="#fff" stroke="#27b690" stroke-width="1.5"/>
<circle cx="115.9" cy="223.9" r="1.75" fill="#27b690"/>
<circle cx="147.1" cy="233.3" r="3.4" fill="#fff" stroke="#2579c6" stroke-width="1.75"/>
<circle cx="128.4" cy="233.3" r="2.5" fill="#fff" stroke="#2579c6" stroke-width="1.7"/>
<circle cx="134.6" cy="233.3" r="2.25" fill="#fff" stroke="#2579c6" stroke-width="1.6"/>
<circle cx="134.6" cy="233.3" r="1.75" fill="#fff" stroke="#2579c6" stroke-width="1.5"/>
<circle cx="134.6" cy="233.3" r="1.75" fill="#2579c6"/>
<circle cx="147.1" cy="242.7" r="3.4" fill="#fff" stroke="#27b690" stroke-width="1.75"/>
<circle cx="115.9" cy="242.7" r="2.5" fill="#fff" stroke="#27b690" stroke-width="1.7"/>
<circle cx="140.9" cy="242.7" r="2.25" fill="#fff" stroke="#27b690" stroke-width="1.6"/>
<circle cx="140.9" cy="242.7" r="1.75" fill="#fff" stroke="#27b690" stroke-width="1.5"/>
<circle cx="184.5" cy="242.7" r="1.75" fill="#27b690"/>
<circle cx="153.3" cy="252.2" r="3.4" fill="#fff" stroke="#7b3fa8" stroke-width="1.75"/>
<circle cx="134.6" cy="252.2" r="2.5" fill="#fff" stroke="#7b3fa8" stroke-width="1.7"/>
<circle cx="122.1" cy="252.2" r="2.25" fill="#fff" stroke="#7b3fa8" stroke-width="1.6"/>
<circle cx="134.6" cy="252.2" r="1.75" fill="#fff" stroke="#7b3fa8" stroke-width="1.5"/>
<circle cx="134.6" cy="252.2" r="1.75" fill="#7b3fa8"/>
<circle cx="153.3" cy="261.6" r="3.4" fill="#fff" stroke="#27b690" stroke-width="1.75"/>
<circle cx="122.1" cy="261.6" r="2.5" fill="#fff" stroke="#27b690" stroke-width="1.7"/>
<circle cx="128.4" cy="261.6" r="2.25" fill="#fff" stroke="#27b690" stroke-width="1.6"/>
<circle cx="122.1" cy="261.6" r="1.75" fill="#fff" stroke="#27b690" stroke-width="1.5"/>
<circle cx="122.1" cy="261.6" r="1.75" fill="#27b690"/>
<circle cx="165.8" cy="271.0" r="3.4" fill="#fff" stroke="#27b690" stroke-width="1.75"/>
<circle cx="159.6" cy="271.0" r="2.5" fill="#fff" stroke="#27b690" stroke-width="1.7"/>
<circle cx="147.1" cy="271.0" r="2.25" fill="#fff" stroke="#27b690" stroke-width="1.6"/>
<circle cx="134.6" cy="271.0" r="1.75" fill="#fff" stroke="#27b690" stroke-width="1.5"/>
<circle cx="122.1" cy="271.0" r="1.75" fill="#27b690"/>
<circle cx="178.3" cy="280.4" r="3.4" fill="#fff" stroke="#27b690" stroke-width="1.75"/>
<circle cx="147.1" cy="280.4" r="2.5" fill="#fff" stroke="#27b690" stroke-width="1.7"/>
<circle cx="147.1" cy="280.4" r="2.25" fill="#fff" stroke="#27b690" stroke-width="1.6"/>
<circle cx="165.8" cy="280.4" r="1.75" fill="#fff" stroke="#27b690" stroke-width="1.5"/>
<circle cx="159.6" cy="280.4" r="1.75" fill="#27b690"/>
<circle cx="184.5" cy="289.8" r="3.4" fill="#fff" stroke="#27b690" stroke-width="1.75"/>
<circle cx="178.3" cy="289.8" r="2.5" fill="#fff" stroke="#27b690" stroke-width="1.7"/>
<circle cx="184.5" cy="289.8" r="2.25" fill="#fff" stroke="#27b690" stroke-width="1.6"/>
<circle cx="178.3" cy="289.8" r="1.75" fill="#fff" stroke="#27b690" stroke-width="1.5"/>
<circle cx="184.5" cy="289.8" r="1.75" fill="#27b690"/>
<circle cx="197.0" cy="299.2" r="3.4" fill="#fff" stroke="#e9a63a" stroke-width="1.75"/>
<circle cx="153.3" cy="299.2" r="2.5" fill="#fff" stroke="#e9a63a" stroke-width="1.7"/>
<circle cx="153.3" cy="299.2" r="2.25" fill="#fff" stroke="#e9a63a" stroke-width="1.6"/>
<circle cx="165.8" cy="299.2" r="1.75" fill="#fff" stroke="#e9a63a" stroke-width="1.5"/>
<circle cx="172.1" cy="299.2" r="1.75" fill="#e9a63a"/>
<circle cx="203.3" cy="308.6" r="3.4" fill="#fff" stroke="#b8466f" stroke-width="1.75"/>
<circle cx="190.8" cy="308.6" r="2.5" fill="#fff" stroke="#b8466f" stroke-width="1.7"/>
<circle cx="197.0" cy="308.6" r="2.25" fill="#fff" stroke="#b8466f" stroke-width="1.6"/>
<circle cx="215.7" cy="308.6" r="1.75" fill="#fff" stroke="#b8466f" stroke-width="1.5"/>
<circle cx="240.7" cy="308.6" r="1.75" fill="#b8466f"/>
<circle cx="209.5" cy="318.0" r="3.4" fill="#fff" stroke="#27b690" stroke-width="1.75"/>
<circle cx="209.5" cy="318.0" r="2.5" fill="#fff" stroke="#27b690" stroke-width="1.7"/>
<circle cx="234.5" cy="318.0" r="2.25" fill="#fff" stroke="#27b690" stroke-width="1.6"/>
<circle cx="234.5" cy="318.0" r="1.75" fill="#fff" stroke="#27b690" stroke-width="1.5"/>
<circle cx="222.0" cy="318.0" r="1.75" fill="#27b690"/>
<circle cx="215.7" cy="327.4" r="3.4" fill="#fff" stroke="#e9a63a" stroke-width="1.75"/>
<circle cx="178.3" cy="327.4" r="2.5" fill="#fff" stroke="#e9a63a" stroke-width="1.7"/>
<circle cx="190.8" cy="327.4" r="2.25" fill="#fff" stroke="#e9a63a" stroke-width="1.6"/>
<circle cx="197.0" cy="327.4" r="1.75" fill="#fff" stroke="#e9a63a" stroke-width="1.5"/>
<circle cx="222.0" cy="327.4" r="1.75" fill="#e9a63a"/>
<circle cx="215.7" cy="336.8" r="3.4" fill="#fff" stroke="#27b690" stroke-width="1.75"/>
<circle cx="197.0" cy="336.8" r="2.5" fill="#fff" stroke="#27b690" stroke-width="1.7"/>
<circle cx="203.3" cy="336.8" r="2.25" fill="#fff" stroke="#27b690" stroke-width="1.6"/>
<circle cx="197.0" cy="336.8" r="1.75" fill="#fff" stroke="#27b690" stroke-width="1.5"/>
<circle cx="197.0" cy="336.8" r="1.75" fill="#27b690"/>
<circle cx="222.0" cy="346.2" r="3.4" fill="#fff" stroke="#7b3fa8" stroke-width="1.75"/>
<circle cx="234.5" cy="346.2" r="2.5" fill="#fff" stroke="#7b3fa8" stroke-width="1.7"/>
<circle cx="234.5" cy="346.2" r="2.25" fill="#fff" stroke="#7b3fa8" stroke-width="1.6"/>
<circle cx="209.5" cy="346.2" r="1.75" fill="#fff" stroke="#7b3fa8" stroke-width="1.5"/>
<circle cx="222.0" cy="346.2" r="1.75" fill="#7b3fa8"/>
<circle cx="228.2" cy="355.6" r="3.4" fill="#fff" stroke="#b8466f" stroke-width="1.75"/>
<circle cx="228.2" cy="355.6" r="2.5" fill="#fff" stroke="#b8466f" stroke-width="1.7"/>
<circle cx="228.2" cy="355.6" r="2.25" fill="#fff" stroke="#b8466f" stroke-width="1.6"/>
<circle cx="259.4" cy="355.6" r="1.75" fill="#fff" stroke="#b8466f" stroke-width="1.5"/>
<circle cx="246.9" cy="355.6" r="1.75" fill="#b8466f"/>
<circle cx="228.2" cy="365.0" r="3.4" fill="#fff" stroke="#b8466f" stroke-width="1.75"/>
<circle cx="240.7" cy="365.0" r="2.5" fill="#fff" stroke="#b8466f" stroke-width="1.7"/>
<circle cx="246.9" cy="365.0" r="2.25" fill="#fff" stroke="#b8466f" stroke-width="1.6"/>
<circle cx="259.4" cy="365.0" r="1.75" fill="#fff" stroke="#b8466f" stroke-width="1.5"/>
<circle cx="246.9" cy="365.0" r="1.75" fill="#b8466f"/>
<circle cx="234.5" cy="374.4" r="3.4" fill="#fff" stroke="#7b3fa8" stroke-width="1.75"/>
<circle cx="222.0" cy="374.4" r="2.5" fill="#fff" stroke="#7b3fa8" stroke-width="1.7"/>
<circle cx="234.5" cy="383.9" r="3.4" fill="#fff" stroke="#27b690" stroke-width="1.75"/>
<circle cx="240.7" cy="383.9" r="2.5" fill="#fff" stroke="#27b690" stroke-width="1.7"/>
<circle cx="253.2" cy="383.9" r="2.25" fill="#fff" stroke="#27b690" stroke-width="1.6"/>
<circle cx="246.9" cy="383.9" r="1.75" fill="#fff" stroke="#27b690" stroke-width="1.5"/>
<circle cx="246.9" cy="383.9" r="1.75" fill="#27b690"/>
<circle cx="234.5" cy="393.3" r="3.4" fill="#fff" stroke="#7b3fa8" stroke-width="1.75"/>
<circle cx="240.7" cy="393.3" r="2.5" fill="#fff" stroke="#7b3fa8" stroke-width="1.7"/>
<circle cx="246.9" cy="402.7" r="3.4" fill="#fff" stroke="#27b690" stroke-width="1.75"/>
<circle cx="190.8" cy="402.7" r="2.5" fill="#fff" stroke="#27b690" stroke-width="1.7"/>
<circle cx="184.5" cy="402.7" r="2.25" fill="#fff" stroke="#27b690" stroke-width="1.6"/>
<circle cx="184.5" cy="402.7" r="1.75" fill="#fff" stroke="#27b690" stroke-width="1.5"/>
<circle cx="172.1" cy="402.7" r="1.75" fill="#27b690"/>
<circle cx="246.9" cy="412.1" r="3.4" fill="#fff" stroke="#27b690" stroke-width="1.75"/>
<circle cx="209.5" cy="412.1" r="2.5" fill="#fff" stroke="#27b690" stroke-width="1.7"/>
<circle cx="178.3" cy="412.1" r="2.25" fill="#fff" stroke="#27b690" stroke-width="1.6"/>
<circle cx="178.3" cy="412.1" r="1.75" fill="#fff" stroke="#27b690" stroke-width="1.5"/>
<circle cx="197.0" cy="412.1" r="1.75" fill="#27b690"/>
<circle cx="253.2" cy="421.5" r="3.4" fill="#fff" stroke="#4b4a22" stroke-width="1.75"/>
<circle cx="228.2" cy="421.5" r="2.5" fill="#fff" stroke="#4b4a22" stroke-width="1.7"/>
<circle cx="197.0" cy="421.5" r="2.25" fill="#fff" stroke="#4b4a22" stroke-width="1.6"/>
<circle cx="240.7" cy="421.5" r="1.75" fill="#fff" stroke="#4b4a22" stroke-width="1.5"/>
<circle cx="271.9" cy="421.5" r="1.75" fill="#4b4a22"/>
<circle cx="253.2" cy="430.9" r="3.4" fill="#fff" stroke="#4b4a22" stroke-width="1.75"/>
<circle cx="253.2" cy="430.9" r="2.5" fill="#fff" stroke="#4b4a22" stroke-width="1.7"/>
<circle cx="284.4" cy="430.9" r="2.25" fill="#fff" stroke="#4b4a22" stroke-width="1.6"/>
<circle cx="271.9" cy="430.9" r="1.75" fill="#fff" stroke="#4b4a22" stroke-width="1.5"/>
<circle cx="309.3" cy="430.9" r="1.75" fill="#4b4a22"/>
<circle cx="265.7" cy="440.3" r="3.4" fill="#fff" stroke="#27b690" stroke-width="1.75"/>
<circle cx="284.4" cy="440.3" r="2.5" fill="#fff" stroke="#27b690" stroke-width="1.7"/>
<circle cx="284.4" cy="440.3" r="2.25" fill="#fff" stroke="#27b690" stroke-width="1.6"/>
<circle cx="265.7" cy="440.3" r="1.75" fill="#fff" stroke="#27b690" stroke-width="1.5"/>
<circle cx="278.1" cy="440.3" r="1.75" fill="#27b690"/>
<circle cx="271.9" cy="449.7" r="3.4" fill="#fff" stroke="#97622f" stroke-width="1.75"/>
<circle cx="296.9" cy="449.7" r="2.5" fill="#fff" stroke="#97622f" stroke-width="1.7"/>
<circle cx="315.6" cy="449.7" r="2.25" fill="#fff" stroke="#97622f" stroke-width="1.6"/>
<circle cx="328.1" cy="449.7" r="1.75" fill="#fff" stroke="#97622f" stroke-width="1.5"/>
<circle cx="315.6" cy="449.7" r="1.75" fill="#97622f"/>
<circle cx="271.9" cy="459.1" r="3.4" fill="#fff" stroke="#27b690" stroke-width="1.75"/>
<circle cx="290.6" cy="459.1" r="2.5" fill="#fff" stroke="#27b690" stroke-width="1.7"/>
<circle cx="296.9" cy="459.1" r="2.25" fill="#fff" stroke="#27b690" stroke-width="1.6"/>
<circle cx="296.9" cy="459.1" r="1.75" fill="#fff" stroke="#27b690" stroke-width="1.5"/>
<circle cx="271.9" cy="459.1" r="1.75" fill="#27b690"/>
<circle cx="278.1" cy="468.5" r="3.4" fill="#fff" stroke="#d5492c" stroke-width="1.75"/>
<circle cx="278.1" cy="468.5" r="2.5" fill="#fff" stroke="#d5492c" stroke-width="1.7"/>
<circle cx="271.9" cy="468.5" r="2.25" fill="#fff" stroke="#d5492c" stroke-width="1.6"/>
<circle cx="265.7" cy="468.5" r="1.75" fill="#fff" stroke="#d5492c" stroke-width="1.5"/>
<circle cx="265.7" cy="468.5" r="1.75" fill="#d5492c"/>
<circle cx="284.4" cy="477.9" r="3.4" fill="#fff" stroke="#e9a63a" stroke-width="1.75"/>
<circle cx="321.8" cy="477.9" r="2.5" fill="#fff" stroke="#e9a63a" stroke-width="1.7"/>
<circle cx="321.8" cy="477.9" r="2.25" fill="#fff" stroke="#e9a63a" stroke-width="1.6"/>
<circle cx="365.5" cy="477.9" r="1.75" fill="#fff" stroke="#e9a63a" stroke-width="1.5"/>
<circle cx="353.0" cy="477.9" r="1.75" fill="#e9a63a"/>
<circle cx="284.4" cy="487.3" r="3.4" fill="#fff" stroke="#27b690" stroke-width="1.75"/>
<circle cx="296.9" cy="487.3" r="2.5" fill="#fff" stroke="#27b690" stroke-width="1.7"/>
<circle cx="303.1" cy="487.3" r="2.25" fill="#fff" stroke="#27b690" stroke-width="1.6"/>
<circle cx="315.6" cy="487.3" r="1.75" fill="#fff" stroke="#27b690" stroke-width="1.5"/>
<circle cx="296.9" cy="487.3" r="1.75" fill="#27b690"/>
<circle cx="284.4" cy="496.7" r="3.4" fill="#fff" stroke="#b8466f" stroke-width="1.75"/>
<circle cx="328.1" cy="496.7" r="2.5" fill="#fff" stroke="#b8466f" stroke-width="1.7"/>
<circle cx="315.6" cy="496.7" r="2.25" fill="#fff" stroke="#b8466f" stroke-width="1.6"/>
<circle cx="315.6" cy="496.7" r="1.75" fill="#fff" stroke="#b8466f" stroke-width="1.5"/>
<circle cx="315.6" cy="496.7" r="1.75" fill="#b8466f"/>
<circle cx="290.6" cy="506.1" r="3.4" fill="#fff" stroke="#b8466f" stroke-width="1.75"/>
<circle cx="315.6" cy="506.1" r="2.5" fill="#fff" stroke="#b8466f" stroke-width="1.7"/>
<circle cx="296.9" cy="515.6" r="3.4" fill="#fff" stroke="#d5492c" stroke-width="1.75"/>
<circle cx="309.3" cy="515.6" r="2.5" fill="#fff" stroke="#d5492c" stroke-width="1.7"/>
<circle cx="278.1" cy="515.6" r="2.25" fill="#fff" stroke="#d5492c" stroke-width="1.6"/>
<circle cx="265.7" cy="515.6" r="1.75" fill="#fff" stroke="#d5492c" stroke-width="1.5"/>
<circle cx="259.4" cy="515.6" r="1.75" fill="#d5492c"/>
<circle cx="296.9" cy="525.0" r="3.4" fill="#fff" stroke="#e9a63a" stroke-width="1.75"/>
<circle cx="296.9" cy="525.0" r="2.5" fill="#fff" stroke="#e9a63a" stroke-width="1.7"/>
<circle cx="315.6" cy="525.0" r="2.25" fill="#fff" stroke="#e9a63a" stroke-width="1.6"/>
<circle cx="328.1" cy="525.0" r="1.75" fill="#fff" stroke="#e9a63a" stroke-width="1.5"/>
<circle cx="321.8" cy="525.0" r="1.75" fill="#e9a63a"/>
<circle cx="303.1" cy="534.4" r="3.4" fill="#fff" stroke="#97622f" stroke-width="1.75"/>
<circle cx="334.3" cy="534.4" r="2.5" fill="#fff" stroke="#97622f" stroke-width="1.7"/>
<circle cx="359.3" cy="534.4" r="2.25" fill="#fff" stroke="#97622f" stroke-width="1.6"/>
<circle cx="359.3" cy="534.4" r="1.75" fill="#fff" stroke="#97622f" stroke-width="1.5"/>
<circle cx="359.3" cy="534.4" r="1.75" fill="#97622f"/>
<circle cx="303.1" cy="543.8" r="3.4" fill="#fff" stroke="#4b4a22" stroke-width="1.75"/>
<circle cx="315.6" cy="543.8" r="2.5" fill="#fff" stroke="#4b4a22" stroke-width="1.7"/>
<circle cx="296.9" cy="543.8" r="2.25" fill="#fff" stroke="#4b4a22" stroke-width="1.6"/>
<circle cx="296.9" cy="543.8" r="1.75" fill="#fff" stroke="#4b4a22" stroke-width="1.5"/>
<circle cx="303.1" cy="543.8" r="1.75" fill="#4b4a22"/>
<circle cx="315.6" cy="553.2" r="3.4" fill="#fff" stroke="#b8466f" stroke-width="1.75"/>
<circle cx="353.0" cy="553.2" r="2.5" fill="#fff" stroke="#b8466f" stroke-width="1.7"/>
<circle cx="353.0" cy="553.2" r="2.25" fill="#fff" stroke="#b8466f" stroke-width="1.6"/>
<circle cx="309.3" cy="553.2" r="1.75" fill="#fff" stroke="#b8466f" stroke-width="1.5"/>
<circle cx="303.1" cy="553.2" r="1.75" fill="#b8466f"/>
<circle cx="315.6" cy="562.6" r="3.4" fill="#fff" stroke="#d5492c" stroke-width="1.75"/>
<circle cx="334.3" cy="562.6" r="2.5" fill="#fff" stroke="#d5492c" stroke-width="1.7"/>
<circle cx="346.8" cy="562.6" r="2.25" fill="#fff" stroke="#d5492c" stroke-width="1.6"/>
<circle cx="365.5" cy="562.6" r="1.75" fill="#fff" stroke="#d5492c" stroke-width="1.5"/>
<circle cx="390.5" cy="562.6" r="1.75" fill="#d5492c"/>
<circle cx="321.8" cy="572.0" r="3.4" fill="#fff" stroke="#27b690" stroke-width="1.75"/>
<circle cx="328.1" cy="572.0" r="2.5" fill="#fff" stroke="#27b690" stroke-width="1.7"/>
<circle cx="328.1" cy="572.0" r="2.25" fill="#fff" stroke="#27b690" stroke-width="1.6"/>
<circle cx="353.0" cy="572.0" r="1.75" fill="#fff" stroke="#27b690" stroke-width="1.5"/>
<circle cx="315.6" cy="572.0" r="1.75" fill="#27b690"/>
<circle cx="321.8" cy="581.4" r="3.4" fill="#fff" stroke="#97622f" stroke-width="1.75"/>
<circle cx="359.3" cy="581.4" r="2.5" fill="#fff" stroke="#97622f" stroke-width="1.7"/>
<circle cx="340.5" cy="581.4" r="2.25" fill="#fff" stroke="#97622f" stroke-width="1.6"/>
<circle cx="340.5" cy="581.4" r="1.75" fill="#fff" stroke="#97622f" stroke-width="1.5"/>
<circle cx="334.3" cy="581.4" r="1.75" fill="#97622f"/>
<circle cx="328.1" cy="590.8" r="3.4" fill="#fff" stroke="#e9a63a" stroke-width="1.75"/>
<circle cx="340.5" cy="590.8" r="2.5" fill="#fff" stroke="#e9a63a" stroke-width="1.7"/>
<circle cx="340.5" cy="590.8" r="2.25" fill="#fff" stroke="#e9a63a" stroke-width="1.6"/>
<circle cx="334.3" cy="590.8" r="1.75" fill="#fff" stroke="#e9a63a" stroke-width="1.5"/>
<circle cx="328.1" cy="590.8" r="1.75" fill="#e9a63a"/>
<circle cx="334.3" cy="600.2" r="3.4" fill="#fff" stroke="#e9a63a" stroke-width="1.75"/>
<circle cx="353.0" cy="600.2" r="2.5" fill="#fff" stroke="#e9a63a" stroke-width="1.7"/>
<circle cx="334.3" cy="600.2" r="2.25" fill="#fff" stroke="#e9a63a" stroke-width="1.6"/>
<circle cx="334.3" cy="600.2" r="1.75" fill="#fff" stroke="#e9a63a" stroke-width="1.5"/>
<circle cx="334.3" cy="609.6" r="3.4" fill="#fff" stroke="#d5492c" stroke-width="1.75"/>
<circle cx="390.5" cy="609.6" r="2.5" fill="#fff" stroke="#d5492c" stroke-width="1.7"/>
<circle cx="384.2" cy="609.6" r="2.25" fill="#fff" stroke="#d5492c" stroke-width="1.6"/>
<circle cx="359.3" cy="609.6" r="1.75" fill="#fff" stroke="#d5492c" stroke-width="1.5"/>
<circle cx="359.3" cy="609.6" r="1.75" fill="#d5492c"/>
<circle cx="340.5" cy="619.0" r="3.4" fill="#fff" stroke="#b8466f" stroke-width="1.75"/>
<circle cx="378.0" cy="619.0" r="2.5" fill="#fff" stroke="#b8466f" stroke-width="1.7"/>
<circle cx="346.8" cy="619.0" r="2.25" fill="#fff" stroke="#b8466f" stroke-width="1.6"/>
<circle cx="346.8" cy="619.0" r="1.75" fill="#fff" stroke="#b8466f" stroke-width="1.5"/>
<circle cx="359.3" cy="619.0" r="1.75" fill="#b8466f"/>
<circle cx="340.5" cy="628.4" r="3.4" fill="#fff" stroke="#d5492c" stroke-width="1.75"/>
<circle cx="378.0" cy="628.4" r="2.5" fill="#fff" stroke="#d5492c" stroke-width="1.7"/>
<circle cx="365.5" cy="628.4" r="2.25" fill="#fff" stroke="#d5492c" stroke-width="1.6"/>
<circle cx="371.7" cy="628.4" r="1.75" fill="#fff" stroke="#d5492c" stroke-width="1.5"/>
<circle cx="390.5" cy="628.4" r="1.75" fill="#d5492c"/>
<circle cx="346.8" cy="637.8" r="3.4" fill="#fff" stroke="#97622f" stroke-width="1.75"/>
<circle cx="365.5" cy="637.8" r="2.5" fill="#fff" stroke="#97622f" stroke-width="1.7"/>
<circle cx="427.9" cy="637.8" r="2.25" fill="#fff" stroke="#97622f" stroke-width="1.6"/>
<circle cx="471.6" cy="637.8" r="1.75" fill="#fff" stroke="#97622f" stroke-width="1.5"/>
<circle cx="490.3" cy="637.8" r="1.75" fill="#97622f"/>
<circle cx="353.0" cy="647.2" r="3.4" fill="#fff" stroke="#e9a63a" stroke-width="1.75"/>
<circle cx="421.7" cy="647.2" r="2.5" fill="#fff" stroke="#e9a63a" stroke-width="1.7"/>
<circle cx="440.4" cy="647.2" r="2.25" fill="#fff" stroke="#e9a63a" stroke-width="1.6"/>
<circle cx="421.7" cy="647.2" r="1.75" fill="#fff" stroke="#e9a63a" stroke-width="1.5"/>
<circle cx="434.1" cy="647.2" r="1.75" fill="#e9a63a"/>
<circle cx="353.0" cy="656.7" r="3.4" fill="#fff" stroke="#97622f" stroke-width="1.75"/>
<circle cx="378.0" cy="656.7" r="2.5" fill="#fff" stroke="#97622f" stroke-width="1.7"/>
<circle cx="378.0" cy="656.7" r="2.25" fill="#fff" stroke="#97622f" stroke-width="1.6"/>
<circle cx="378.0" cy="656.7" r="1.75" fill="#fff" stroke="#97622f" stroke-width="1.5"/>
<circle cx="378.0" cy="656.7" r="1.75" fill="#97622f"/>
<circle cx="359.3" cy="666.1" r="3.4" fill="#fff" stroke="#4b4a22" stroke-width="1.75"/>
<circle cx="359.3" cy="666.1" r="2.5" fill="#fff" stroke="#4b4a22" stroke-width="1.7"/>
<circle cx="371.7" cy="666.1" r="2.25" fill="#fff" stroke="#4b4a22" stroke-width="1.6"/>
<circle cx="359.3" cy="666.1" r="1.75" fill="#fff" stroke="#4b4a22" stroke-width="1.5"/>
<circle cx="340.5" cy="666.1" r="1.75" fill="#4b4a22"/>
<circle cx="371.7" cy="675.5" r="3.4" fill="#fff" stroke="#d5492c" stroke-width="1.75"/>
<circle cx="402.9" cy="675.5" r="2.5" fill="#fff" stroke="#d5492c" stroke-width="1.7"/>
<circle cx="390.5" cy="675.5" r="2.25" fill="#fff" stroke="#d5492c" stroke-width="1.6"/>
<circle cx="371.7" cy="675.5" r="1.75" fill="#fff" stroke="#d5492c" stroke-width="1.5"/>
<circle cx="353.0" cy="675.5" r="1.75" fill="#d5492c"/>
<circle cx="371.7" cy="684.9" r="3.4" fill="#fff" stroke="#d5492c" stroke-width="1.75"/>
<circle cx="415.4" cy="684.9" r="2.5" fill="#fff" stroke="#d5492c" stroke-width="1.7"/>
<circle cx="409.2" cy="684.9" r="2.25" fill="#fff" stroke="#d5492c" stroke-width="1.6"/>
<circle cx="396.7" cy="684.9" r="1.75" fill="#fff" stroke="#d5492c" stroke-width="1.5"/>
<circle cx="365.5" cy="684.9" r="1.75" fill="#d5492c"/>
<circle cx="371.7" cy="694.3" r="3.4" fill="#fff" stroke="#e9a63a" stroke-width="1.75"/>
<circle cx="409.2" cy="694.3" r="2.5" fill="#fff" stroke="#e9a63a" stroke-width="1.7"/>
<circle cx="402.9" cy="694.3" r="2.25" fill="#fff" stroke="#e9a63a" stroke-width="1.6"/>
<circle cx="396.7" cy="694.3" r="1.75" fill="#fff" stroke="#e9a63a" stroke-width="1.5"/>
<circle cx="359.3" cy="694.3" r="1.75" fill="#e9a63a"/>
<circle cx="371.7" cy="703.7" r="3.4" fill="#fff" stroke="#d5492c" stroke-width="1.75"/>
<circle cx="415.4" cy="703.7" r="2.5" fill="#fff" stroke="#d5492c" stroke-width="1.7"/>
<circle cx="402.9" cy="703.7" r="2.25" fill="#fff" stroke="#d5492c" stroke-width="1.6"/>
<circle cx="402.9" cy="703.7" r="1.75" fill="#fff" stroke="#d5492c" stroke-width="1.5"/>
<circle cx="390.5" cy="703.7" r="1.75" fill="#d5492c"/>
<circle cx="378.0" cy="713.1" r="3.4" fill="#fff" stroke="#b8466f" stroke-width="1.75"/>
<circle cx="415.4" cy="713.1" r="2.5" fill="#fff" stroke="#b8466f" stroke-width="1.7"/>
<circle cx="446.6" cy="713.1" r="2.25" fill="#fff" stroke="#b8466f" stroke-width="1.6"/>
<circle cx="402.9" cy="713.1" r="1.75" fill="#fff" stroke="#b8466f" stroke-width="1.5"/>
<circle cx="409.2" cy="713.1" r="1.75" fill="#b8466f"/>
<circle cx="378.0" cy="722.5" r="3.4" fill="#fff" stroke="#4b4a22" stroke-width="1.75"/>
<circle cx="396.7" cy="722.5" r="2.5" fill="#fff" stroke="#4b4a22" stroke-width="1.7"/>
<circle cx="384.2" cy="722.5" r="2.25" fill="#fff" stroke="#4b4a22" stroke-width="1.6"/>
<circle cx="365.5" cy="722.5" r="1.75" fill="#fff" stroke="#4b4a22" stroke-width="1.5"/>
<circle cx="359.3" cy="722.5" r="1.75" fill="#4b4a22"/>
<circle cx="378.0" cy="731.9" r="3.4" fill="#fff" stroke="#97622f" stroke-width="1.75"/>
<circle cx="402.9" cy="731.9" r="2.5" fill="#fff" stroke="#97622f" stroke-width="1.7"/>
<circle cx="402.9" cy="731.9" r="2.25" fill="#fff" stroke="#97622f" stroke-width="1.6"/>
<circle cx="396.7" cy="731.9" r="1.75" fill="#fff" stroke="#97622f" stroke-width="1.5"/>
<circle cx="396.7" cy="731.9" r="1.75" fill="#97622f"/>
<circle cx="384.2" cy="741.3" r="3.4" fill="#fff" stroke="#4b4a22" stroke-width="1.75"/>
<circle cx="378.0" cy="741.3" r="2.5" fill="#fff" stroke="#4b4a22" stroke-width="1.7"/>
<circle cx="346.8" cy="741.3" r="2.25" fill="#fff" stroke="#4b4a22" stroke-width="1.6"/>
<circle cx="334.3" cy="741.3" r="1.75" fill="#fff" stroke="#4b4a22" stroke-width="1.5"/>
<circle cx="334.3" cy="741.3" r="1.75" fill="#4b4a22"/>
<circle cx="390.5" cy="750.7" r="3.4" fill="#fff" stroke="#d5492c" stroke-width="1.75"/>
<circle cx="427.9" cy="750.7" r="2.5" fill="#fff" stroke="#d5492c" stroke-width="1.7"/>
<circle cx="421.7" cy="750.7" r="2.25" fill="#fff" stroke="#d5492c" stroke-width="1.6"/>
<circle cx="421.7" cy="750.7" r="1.75" fill="#fff" stroke="#d5492c" stroke-width="1.5"/>
<circle cx="402.9" cy="750.7" r="1.75" fill="#d5492c"/>
<circle cx="390.5" cy="760.1" r="3.4" fill="#fff" stroke="#d5492c" stroke-width="1.75"/>
<circle cx="427.9" cy="760.1" r="2.5" fill="#fff" stroke="#d5492c" stroke-width="1.7"/>
<circle cx="409.2" cy="760.1" r="2.25" fill="#fff" stroke="#d5492c" stroke-width="1.6"/>
<circle cx="396.7" cy="760.1" r="1.75" fill="#fff" stroke="#d5492c" stroke-width="1.5"/>
<circle cx="365.5" cy="760.1" r="1.75" fill="#d5492c"/>
<circle cx="396.7" cy="769.5" r="3.4" fill="#fff" stroke="#97622f" stroke-width="1.75"/>
<circle cx="434.1" cy="769.5" r="2.5" fill="#fff" stroke="#97622f" stroke-width="1.7"/>
<circle cx="421.7" cy="769.5" r="2.25" fill="#fff" stroke="#97622f" stroke-width="1.6"/>
<circle cx="434.1" cy="769.5" r="1.75" fill="#fff" stroke="#97622f" stroke-width="1.5"/>
<circle cx="434.1" cy="769.5" r="1.75" fill="#97622f"/>
<circle cx="396.7" cy="778.9" r="3.4" fill="#fff" stroke="#97622f" stroke-width="1.75"/>
<circle cx="459.1" cy="778.9" r="2.5" fill="#fff" stroke="#97622f" stroke-width="1.7"/>
<circle cx="459.1" cy="778.9" r="2.25" fill="#fff" stroke="#97622f" stroke-width="1.6"/>
<circle cx="471.6" cy="778.9" r="1.75" fill="#fff" stroke="#97622f" stroke-width="1.5"/>
<circle cx="477.8" cy="778.9" r="1.75" fill="#97622f"/>
<circle cx="402.9" cy="788.4" r="3.4" fill="#fff" stroke="#4b4a22" stroke-width="1.75"/>
<circle cx="390.5" cy="788.4" r="2.5" fill="#fff" stroke="#4b4a22" stroke-width="1.7"/>
<circle cx="396.7" cy="788.4" r="2.25" fill="#fff" stroke="#4b4a22" stroke-width="1.6"/>
<circle cx="421.7" cy="788.4" r="1.75" fill="#fff" stroke="#4b4a22" stroke-width="1.5"/>
<circle cx="409.2" cy="788.4" r="1.75" fill="#4b4a22"/>
<circle cx="402.9" cy="797.8" r="3.4" fill="#fff" stroke="#d5492c" stroke-width="1.75"/>
<circle cx="452.9" cy="797.8" r="2.5" fill="#fff" stroke="#d5492c" stroke-width="1.7"/>
<circle cx="446.6" cy="797.8" r="2.25" fill="#fff" stroke="#d5492c" stroke-width="1.6"/>
<circle cx="440.4" cy="797.8" r="1.75" fill="#fff" stroke="#d5492c" stroke-width="1.5"/>
<circle cx="440.4" cy="797.8" r="1.75" fill="#d5492c"/>
<circle cx="402.9" cy="807.2" r="3.4" fill="#fff" stroke="#4b4a22" stroke-width="1.75"/>
<circle cx="402.9" cy="807.2" r="2.5" fill="#fff" stroke="#4b4a22" stroke-width="1.7"/>
<circle cx="384.2" cy="807.2" r="2.25" fill="#fff" stroke="#4b4a22" stroke-width="1.6"/>
<circle cx="409.2" cy="807.2" r="1.75" fill="#fff" stroke="#4b4a22" stroke-width="1.5"/>
<circle cx="459.1" cy="807.2" r="1.75" fill="#e9a63a"/>
<circle cx="409.2" cy="816.6" r="3.4" fill="#fff" stroke="#b8466f" stroke-width="1.75"/>
<circle cx="440.4" cy="816.6" r="2.5" fill="#fff" stroke="#b8466f" stroke-width="1.7"/>
<circle cx="446.6" cy="816.6" r="2.25" fill="#fff" stroke="#b8466f" stroke-width="1.6"/>
<circle cx="446.6" cy="816.6" r="1.75" fill="#fff" stroke="#b8466f" stroke-width="1.5"/>
<circle cx="459.1" cy="816.6" r="1.75" fill="#b8466f"/>
<circle cx="409.2" cy="826.0" r="3.4" fill="#fff" stroke="#d5492c" stroke-width="1.75"/>
<circle cx="434.1" cy="826.0" r="2.5" fill="#fff" stroke="#d5492c" stroke-width="1.7"/>
<circle cx="421.7" cy="826.0" r="2.25" fill="#fff" stroke="#d5492c" stroke-width="1.6"/>
<circle cx="440.4" cy="826.0" r="1.75" fill="#fff" stroke="#d5492c" stroke-width="1.5"/>
<circle cx="452.9" cy="826.0" r="1.75" fill="#d5492c"/>
<circle cx="409.2" cy="835.4" r="3.4" fill="#fff" stroke="#97622f" stroke-width="1.75"/>
<circle cx="421.7" cy="835.4" r="2.5" fill="#fff" stroke="#97622f" stroke-width="1.7"/>
<circle cx="396.7" cy="835.4" r="2.25" fill="#fff" stroke="#97622f" stroke-width="1.6"/>
<circle cx="384.2" cy="835.4" r="1.75" fill="#fff" stroke="#97622f" stroke-width="1.5"/>
<circle cx="371.7" cy="835.4" r="1.75" fill="#97622f"/>
<circle cx="415.4" cy="844.8" r="3.4" fill="#fff" stroke="#d5492c" stroke-width="1.75"/>
<circle cx="477.8" cy="844.8" r="2.5" fill="#fff" stroke="#d5492c" stroke-width="1.7"/>
<circle cx="477.8" cy="844.8" r="2.25" fill="#fff" stroke="#d5492c" stroke-width="1.6"/>
<circle cx="490.3" cy="844.8" r="1.75" fill="#fff" stroke="#d5492c" stroke-width="1.5"/>
<circle cx="477.8" cy="844.8" r="1.75" fill="#d5492c"/>
<circle cx="415.4" cy="854.2" r="3.4" fill="#fff" stroke="#27b690" stroke-width="1.75"/>
<circle cx="434.1" cy="854.2" r="2.5" fill="#fff" stroke="#27b690" stroke-width="1.7"/>
<circle cx="434.1" cy="854.2" r="2.25" fill="#fff" stroke="#27b690" stroke-width="1.6"/>
<circle cx="409.2" cy="854.2" r="1.75" fill="#fff" stroke="#27b690" stroke-width="1.5"/>
<circle cx="378.0" cy="854.2" r="1.75" fill="#27b690"/>
<circle cx="415.4" cy="863.6" r="3.4" fill="#fff" stroke="#97622f" stroke-width="1.75"/>
<circle cx="490.3" cy="863.6" r="2.5" fill="#fff" stroke="#97622f" stroke-width="1.7"/>
<circle cx="490.3" cy="863.6" r="2.25" fill="#fff" stroke="#97622f" stroke-width="1.6"/>
<circle cx="502.8" cy="863.6" r="1.75" fill="#fff" stroke="#97622f" stroke-width="1.5"/>
<circle cx="509.0" cy="863.6" r="1.75" fill="#97622f"/>
<circle cx="421.7" cy="873.0" r="3.4" fill="#fff" stroke="#d5492c" stroke-width="1.75"/>
<circle cx="471.6" cy="873.0" r="2.5" fill="#fff" stroke="#d5492c" stroke-width="1.7"/>
<circle cx="452.9" cy="873.0" r="2.25" fill="#fff" stroke="#d5492c" stroke-width="1.6"/>
<circle cx="440.4" cy="873.0" r="1.75" fill="#fff" stroke="#d5492c" stroke-width="1.5"/>
<circle cx="452.9" cy="873.0" r="1.75" fill="#d5492c"/>
<circle cx="421.7" cy="882.4" r="3.4" fill="#fff" stroke="#97622f" stroke-width="1.75"/>
<circle cx="477.8" cy="882.4" r="2.5" fill="#fff" stroke="#97622f" stroke-width="1.7"/>
<circle cx="471.6" cy="882.4" r="2.25" fill="#fff" stroke="#97622f" stroke-width="1.6"/>
<circle cx="484.1" cy="882.4" r="1.75" fill="#fff" stroke="#97622f" stroke-width="1.5"/>
<circle cx="527.7" cy="882.4" r="1.75" fill="#97622f"/>
<circle cx="421.7" cy="891.8" r="3.4" fill="#fff" stroke="#d5492c" stroke-width="1.75"/>
<circle cx="427.9" cy="891.8" r="2.5" fill="#fff" stroke="#d5492c" stroke-width="1.7"/>
<circle cx="446.6" cy="891.8" r="2.25" fill="#fff" stroke="#d5492c" stroke-width="1.6"/>
<circle cx="434.1" cy="891.8" r="1.75" fill="#fff" stroke="#d5492c" stroke-width="1.5"/>
<circle cx="465.3" cy="891.8" r="1.75" fill="#d5492c"/>
<circle cx="421.7" cy="901.2" r="3.4" fill="#fff" stroke="#4b4a22" stroke-width="1.75"/>
<circle cx="440.4" cy="901.2" r="2.5" fill="#fff" stroke="#4b4a22" stroke-width="1.7"/>
<circle cx="409.2" cy="901.2" r="2.25" fill="#fff" stroke="#4b4a22" stroke-width="1.6"/>
<circle cx="415.4" cy="901.2" r="1.75" fill="#fff" stroke="#4b4a22" stroke-width="1.5"/>
<circle cx="402.9" cy="901.2" r="1.75" fill="#4b4a22"/>
<circle cx="427.9" cy="910.6" r="3.4" fill="#fff" stroke="#e9a63a" stroke-width="1.75"/>
<circle cx="471.6" cy="910.6" r="2.5" fill="#fff" stroke="#e9a63a" stroke-width="1.7"/>
<circle cx="477.8" cy="910.6" r="2.25" fill="#fff" stroke="#e9a63a" stroke-width="1.6"/>
<circle cx="484.1" cy="910.6" r="1.75" fill="#fff" stroke="#e9a63a" stroke-width="1.5"/>
<circle cx="477.8" cy="910.6" r="1.75" fill="#e9a63a"/>
<circle cx="434.1" cy="920.1" r="3.4" fill="#fff" stroke="#e9a63a" stroke-width="1.75"/>
<circle cx="452.9" cy="920.1" r="2.5" fill="#fff" stroke="#e9a63a" stroke-width="1.7"/>
<circle cx="459.1" cy="920.1" r="2.25" fill="#fff" stroke="#e9a63a" stroke-width="1.6"/>
<circle cx="452.9" cy="920.1" r="1.75" fill="#fff" stroke="#e9a63a" stroke-width="1.5"/>
<circle cx="452.9" cy="920.1" r="1.75" fill="#e9a63a"/>
<circle cx="434.1" cy="929.5" r="3.4" fill="#fff" stroke="#d5492c" stroke-width="1.75"/>
<circle cx="471.6" cy="929.5" r="2.5" fill="#fff" stroke="#d5492c" stroke-width="1.7"/>
<circle cx="459.1" cy="929.5" r="2.25" fill="#fff" stroke="#d5492c" stroke-width="1.6"/>
<circle cx="459.1" cy="929.5" r="1.75" fill="#fff" stroke="#d5492c" stroke-width="1.5"/>
<circle cx="465.3" cy="929.5" r="1.75" fill="#d5492c"/>
<circle cx="434.1" cy="938.9" r="3.4" fill="#fff" stroke="#97622f" stroke-width="1.75"/>
<circle cx="477.8" cy="938.9" r="2.5" fill="#fff" stroke="#97622f" stroke-width="1.7"/>
<circle cx="452.9" cy="938.9" r="2.25" fill="#fff" stroke="#97622f" stroke-width="1.6"/>
<circle cx="452.9" cy="938.9" r="1.75" fill="#fff" stroke="#97622f" stroke-width="1.5"/>
<circle cx="452.9" cy="938.9" r="1.75" fill="#97622f"/>
<circle cx="440.4" cy="948.3" r="3.4" fill="#fff" stroke="#97622f" stroke-width="1.75"/>
<circle cx="490.3" cy="948.3" r="2.5" fill="#fff" stroke="#97622f" stroke-width="1.7"/>
<circle cx="484.1" cy="948.3" r="2.25" fill="#fff" stroke="#97622f" stroke-width="1.6"/>
<circle cx="452.9" cy="948.3" r="1.75" fill="#fff" stroke="#97622f" stroke-width="1.5"/>
<circle cx="459.1" cy="948.3" r="1.75" fill="#97622f"/>
<circle cx="440.4" cy="957.7" r="3.4" fill="#fff" stroke="#b8466f" stroke-width="1.75"/>
<circle cx="465.3" cy="957.7" r="2.5" fill="#fff" stroke="#b8466f" stroke-width="1.7"/>
<circle cx="452.9" cy="957.7" r="2.25" fill="#fff" stroke="#b8466f" stroke-width="1.6"/>
<circle cx="465.3" cy="957.7" r="1.75" fill="#fff" stroke="#b8466f" stroke-width="1.5"/>
<circle cx="434.1" cy="957.7" r="1.75" fill="#b8466f"/>
<circle cx="440.4" cy="967.1" r="3.4" fill="#fff" stroke="#b8466f" stroke-width="1.75"/>
<circle cx="471.6" cy="967.1" r="2.5" fill="#fff" stroke="#b8466f" stroke-width="1.7"/>
<circle cx="471.6" cy="967.1" r="2.25" fill="#fff" stroke="#b8466f" stroke-width="1.6"/>
<circle cx="490.3" cy="967.1" r="1.75" fill="#fff" stroke="#b8466f" stroke-width="1.5"/>
<circle cx="484.1" cy="967.1" r="1.75" fill="#b8466f"/>
<circle cx="440.4" cy="976.5" r="3.4" fill="#fff" stroke="#b8466f" stroke-width="1.75"/>
<circle cx="471.6" cy="976.5" r="2.5" fill="#fff" stroke="#b8466f" stroke-width="1.7"/>
<circle cx="452.9" cy="976.5" r="2.25" fill="#fff" stroke="#b8466f" stroke-width="1.6"/>
<circle cx="465.3" cy="976.5" r="1.75" fill="#fff" stroke="#b8466f" stroke-width="1.5"/>
<circle cx="465.3" cy="976.5" r="1.75" fill="#b8466f"/>
<circle cx="440.4" cy="985.9" r="3.4" fill="#fff" stroke="#b8466f" stroke-width="1.75"/>
<circle cx="465.3" cy="985.9" r="2.5" fill="#fff" stroke="#b8466f" stroke-width="1.7"/>
<circle cx="459.1" cy="985.9" r="2.25" fill="#fff" stroke="#b8466f" stroke-width="1.6"/>
<circle cx="446.6" cy="985.9" r="1.75" fill="#fff" stroke="#b8466f" stroke-width="1.5"/>
<circle cx="452.9" cy="985.9" r="1.75" fill="#b8466f"/>
<circle cx="446.6" cy="995.3" r="3.4" fill="#fff" stroke="#97622f" stroke-width="1.75"/>
<circle cx="490.3" cy="995.3" r="2.5" fill="#fff" stroke="#97622f" stroke-width="1.7"/>
<circle cx="465.3" cy="995.3" r="2.25" fill="#fff" stroke="#97622f" stroke-width="1.6"/>
<circle cx="471.6" cy="995.3" r="1.75" fill="#fff" stroke="#97622f" stroke-width="1.5"/>
<circle cx="502.8" cy="995.3" r="1.75" fill="#97622f"/>
<circle cx="446.6" cy="1004.7" r="3.4" fill="#fff" stroke="#4b4a22" stroke-width="1.75"/>
<circle cx="465.3" cy="1004.7" r="2.5" fill="#fff" stroke="#4b4a22" stroke-width="1.7"/>
<circle cx="465.3" cy="1004.7" r="2.25" fill="#fff" stroke="#4b4a22" stroke-width="1.6"/>
<circle cx="471.6" cy="1004.7" r="1.75" fill="#fff" stroke="#4b4a22" stroke-width="1.5"/>
<circle cx="459.1" cy="1004.7" r="1.75" fill="#4b4a22"/>
<circle cx="446.6" cy="1014.1" r="3.4" fill="#fff" stroke="#b8466f" stroke-width="1.75"/>
<circle cx="490.3" cy="1014.1" r="2.5" fill="#fff" stroke="#b8466f" stroke-width="1.7"/>
<circle cx="446.6" cy="1023.5" r="3.4" fill="#fff" stroke="#97622f" stroke-width="1.75"/>
<circle cx="484.1" cy="1023.5" r="2.5" fill="#fff" stroke="#97622f" stroke-width="1.7"/>
<circle cx="477.8" cy="1023.5" r="2.25" fill="#fff" stroke="#97622f" stroke-width="1.6"/>
<circle cx="452.9" cy="1023.5" r="1.75" fill="#fff" stroke="#97622f" stroke-width="1.5"/>
<circle cx="452.9" cy="1023.5" r="1.75" fill="#97622f"/>
<circle cx="446.6" cy="1032.9" r="3.4" fill="#fff" stroke="#e9a63a" stroke-width="1.75"/>
<circle cx="465.3" cy="1032.9" r="2.5" fill="#fff" stroke="#e9a63a" stroke-width="1.7"/>
<circle cx="459.1" cy="1032.9" r="2.25" fill="#fff" stroke="#e9a63a" stroke-width="1.6"/>
<circle cx="465.3" cy="1032.9" r="1.75" fill="#fff" stroke="#e9a63a" stroke-width="1.5"/>
<circle cx="459.1" cy="1032.9" r="1.75" fill="#e9a63a"/>
<circle cx="446.6" cy="1042.3" r="3.4" fill="#fff" stroke="#97622f" stroke-width="1.75"/>
<circle cx="477.8" cy="1042.3" r="2.5" fill="#fff" stroke="#97622f" stroke-width="1.7"/>
<circle cx="490.3" cy="1042.3" r="2.25" fill="#fff" stroke="#97622f" stroke-width="1.6"/>
<circle cx="490.3" cy="1042.3" r="1.75" fill="#fff" stroke="#97622f" stroke-width="1.5"/>
<circle cx="502.8" cy="1042.3" r="1.75" fill="#97622f"/>
<circle cx="452.9" cy="1051.8" r="3.4" fill="#fff" stroke="#97622f" stroke-width="1.75"/>
<circle cx="452.9" cy="1061.2" r="3.4" fill="#fff" stroke="#b8466f" stroke-width="1.75"/>
<circle cx="465.3" cy="1061.2" r="2.5" fill="#fff" stroke="#b8466f" stroke-width="1.7"/>
<circle cx="459.1" cy="1061.2" r="2.25" fill="#fff" stroke="#b8466f" stroke-width="1.6"/>
<circle cx="446.6" cy="1061.2" r="1.75" fill="#fff" stroke="#b8466f" stroke-width="1.5"/>
<circle cx="440.4" cy="1061.2" r="1.75" fill="#b8466f"/>
<circle cx="452.9" cy="1070.6" r="3.4" fill="#fff" stroke="#4b4a22" stroke-width="1.75"/>
<circle cx="490.3" cy="1070.6" r="2.5" fill="#fff" stroke="#4b4a22" stroke-width="1.7"/>
<circle cx="477.8" cy="1070.6" r="2.25" fill="#fff" stroke="#4b4a22" stroke-width="1.6"/>
<circle cx="502.8" cy="1070.6" r="1.75" fill="#fff" stroke="#4b4a22" stroke-width="1.5"/>
<circle cx="490.3" cy="1070.6" r="1.75" fill="#4b4a22"/>
<circle cx="452.9" cy="1080.0" r="3.4" fill="#fff" stroke="#27b690" stroke-width="1.75"/>
<circle cx="465.3" cy="1080.0" r="2.5" fill="#fff" stroke="#27b690" stroke-width="1.7"/>
<circle cx="459.1" cy="1080.0" r="2.25" fill="#fff" stroke="#27b690" stroke-width="1.6"/>
<circle cx="440.4" cy="1080.0" r="1.75" fill="#fff" stroke="#27b690" stroke-width="1.5"/>
<circle cx="384.2" cy="1080.0" r="1.75" fill="#27b690"/>
<circle cx="452.9" cy="1089.4" r="3.4" fill="#fff" stroke="#e9a63a" stroke-width="1.75"/>
<circle cx="484.1" cy="1089.4" r="2.5" fill="#fff" stroke="#e9a63a" stroke-width="1.7"/>
<circle cx="471.6" cy="1089.4" r="2.25" fill="#fff" stroke="#e9a63a" stroke-width="1.6"/>
<circle cx="465.3" cy="1089.4" r="1.75" fill="#fff" stroke="#e9a63a" stroke-width="1.5"/>
<circle cx="465.3" cy="1089.4" r="1.75" fill="#e9a63a"/>
<circle cx="452.9" cy="1098.8" r="3.4" fill="#fff" stroke="#d5492c" stroke-width="1.75"/>
<circle cx="502.8" cy="1098.8" r="2.5" fill="#fff" stroke="#d5492c" stroke-width="1.7"/>
<circle cx="496.5" cy="1098.8" r="2.25" fill="#fff" stroke="#d5492c" stroke-width="1.6"/>
<circle cx="471.6" cy="1098.8" r="1.75" fill="#fff" stroke="#d5492c" stroke-width="1.5"/>
<circle cx="496.5" cy="1098.8" r="1.75" fill="#d5492c"/>
<circle cx="452.9" cy="1108.2" r="3.4" fill="#fff" stroke="#e9a63a" stroke-width="1.75"/>
<circle cx="509.0" cy="1108.2" r="2.5" fill="#fff" stroke="#e9a63a" stroke-width="1.7"/>
<circle cx="509.0" cy="1108.2" r="2.25" fill="#fff" stroke="#e9a63a" stroke-width="1.6"/>
<circle cx="509.0" cy="1108.2" r="1.75" fill="#fff" stroke="#e9a63a" stroke-width="1.5"/>
<circle cx="490.3" cy="1108.2" r="1.75" fill="#e9a63a"/>
<circle cx="452.9" cy="1117.6" r="3.4" fill="#fff" stroke="#97622f" stroke-width="1.75"/>
<circle cx="496.5" cy="1117.6" r="2.5" fill="#fff" stroke="#97622f" stroke-width="1.7"/>
<circle cx="496.5" cy="1117.6" r="2.25" fill="#fff" stroke="#97622f" stroke-width="1.6"/>
<circle cx="490.3" cy="1117.6" r="1.75" fill="#fff" stroke="#97622f" stroke-width="1.5"/>
<circle cx="465.3" cy="1117.6" r="1.75" fill="#97622f"/>
<circle cx="459.1" cy="1127.0" r="3.4" fill="#fff" stroke="#b8466f" stroke-width="1.75"/>
<circle cx="490.3" cy="1127.0" r="2.5" fill="#fff" stroke="#b8466f" stroke-width="1.7"/>
<circle cx="496.5" cy="1127.0" r="2.25" fill="#fff" stroke="#b8466f" stroke-width="1.6"/>
<circle cx="496.5" cy="1127.0" r="1.75" fill="#fff" stroke="#b8466f" stroke-width="1.5"/>
<circle cx="496.5" cy="1127.0" r="1.75" fill="#b8466f"/>
<circle cx="459.1" cy="1136.4" r="3.4" fill="#fff" stroke="#97622f" stroke-width="1.75"/>
<circle cx="490.3" cy="1136.4" r="2.5" fill="#fff" stroke="#97622f" stroke-width="1.7"/>
<circle cx="502.8" cy="1136.4" r="2.25" fill="#fff" stroke="#97622f" stroke-width="1.6"/>
<circle cx="496.5" cy="1136.4" r="1.75" fill="#fff" stroke="#97622f" stroke-width="1.5"/>
<circle cx="484.1" cy="1136.4" r="1.75" fill="#97622f"/>
<circle cx="459.1" cy="1145.8" r="3.4" fill="#fff" stroke="#97622f" stroke-width="1.75"/>
<circle cx="490.3" cy="1145.8" r="2.5" fill="#fff" stroke="#97622f" stroke-width="1.7"/>
<circle cx="509.0" cy="1145.8" r="2.25" fill="#fff" stroke="#97622f" stroke-width="1.6"/>
<circle cx="515.3" cy="1145.8" r="1.75" fill="#fff" stroke="#97622f" stroke-width="1.5"/>
<circle cx="490.3" cy="1145.8" r="1.75" fill="#97622f"/>
<circle cx="465.3" cy="1155.2" r="3.4" fill="#fff" stroke="#4b4a22" stroke-width="1.75"/>
<circle cx="496.5" cy="1155.2" r="2.5" fill="#fff" stroke="#4b4a22" stroke-width="1.7"/>
<circle cx="496.5" cy="1155.2" r="2.25" fill="#fff" stroke="#4b4a22" stroke-width="1.6"/>
<circle cx="502.8" cy="1155.2" r="1.75" fill="#fff" stroke="#4b4a22" stroke-width="1.5"/>
<circle cx="477.8" cy="1155.2" r="1.75" fill="#4b4a22"/>
<circle cx="465.3" cy="1164.6" r="3.4" fill="#fff" stroke="#e9a63a" stroke-width="1.75"/>
<circle cx="515.3" cy="1164.6" r="2.5" fill="#fff" stroke="#e9a63a" stroke-width="1.7"/>
<circle cx="515.3" cy="1164.6" r="2.25" fill="#fff" stroke="#e9a63a" stroke-width="1.6"/>
<circle cx="509.0" cy="1164.6" r="1.75" fill="#fff" stroke="#e9a63a" stroke-width="1.5"/>
<circle cx="496.5" cy="1164.6" r="1.75" fill="#e9a63a"/>
<circle cx="465.3" cy="1174.0" r="3.4" fill="#fff" stroke="#e2337a" stroke-width="1.75"/>
<circle cx="502.8" cy="1174.0" r="2.5" fill="#fff" stroke="#e2337a" stroke-width="1.7"/>
<circle cx="502.8" cy="1174.0" r="2.25" fill="#fff" stroke="#e2337a" stroke-width="1.6"/>
<circle cx="509.0" cy="1174.0" r="1.75" fill="#fff" stroke="#e2337a" stroke-width="1.5"/>
<circle cx="490.3" cy="1174.0" r="1.75" fill="#e2337a"/>
<circle cx="465.3" cy="1183.4" r="3.4" fill="#fff" stroke="#97622f" stroke-width="1.75"/>
<circle cx="459.1" cy="1183.4" r="2.5" fill="#fff" stroke="#97622f" stroke-width="1.7"/>
<circle cx="477.8" cy="1183.4" r="2.25" fill="#fff" stroke="#97622f" stroke-width="1.6"/>
<circle cx="496.5" cy="1183.4" r="1.75" fill="#fff" stroke="#97622f" stroke-width="1.5"/>
<circle cx="558.9" cy="1183.4" r="1.75" fill="#97622f"/>
<circle cx="465.3" cy="1192.9" r="3.4" fill="#fff" stroke="#d5492c" stroke-width="1.75"/>
<circle cx="496.5" cy="1192.9" r="2.5" fill="#fff" stroke="#d5492c" stroke-width="1.7"/>
<circle cx="502.8" cy="1192.9" r="2.25" fill="#fff" stroke="#d5492c" stroke-width="1.6"/>
<circle cx="465.3" cy="1202.3" r="3.4" fill="#fff" stroke="#97622f" stroke-width="1.75"/>
<circle cx="502.8" cy="1202.3" r="2.5" fill="#fff" stroke="#97622f" stroke-width="1.7"/>
<circle cx="509.0" cy="1202.3" r="2.25" fill="#fff" stroke="#97622f" stroke-width="1.6"/>
<circle cx="502.8" cy="1202.3" r="1.75" fill="#fff" stroke="#97622f" stroke-width="1.5"/>
<circle cx="484.1" cy="1202.3" r="1.75" fill="#97622f"/>
<circle cx="465.3" cy="1211.7" r="3.4" fill="#fff" stroke="#b8466f" stroke-width="1.75"/>
<circle cx="490.3" cy="1211.7" r="2.5" fill="#fff" stroke="#b8466f" stroke-width="1.7"/>
<circle cx="484.1" cy="1211.7" r="2.25" fill="#fff" stroke="#b8466f" stroke-width="1.6"/>
<circle cx="471.6" cy="1211.7" r="1.75" fill="#fff" stroke="#b8466f" stroke-width="1.5"/>
<circle cx="452.9" cy="1211.7" r="1.75" fill="#b8466f"/>
<circle cx="465.3" cy="1221.1" r="3.4" fill="#fff" stroke="#e9a63a" stroke-width="1.75"/>
<circle cx="515.3" cy="1221.1" r="2.5" fill="#fff" stroke="#e9a63a" stroke-width="1.7"/>
<circle cx="527.7" cy="1221.1" r="2.25" fill="#fff" stroke="#e9a63a" stroke-width="1.6"/>
<circle cx="527.7" cy="1221.1" r="1.75" fill="#fff" stroke="#e9a63a" stroke-width="1.5"/>
<circle cx="534.0" cy="1221.1" r="1.75" fill="#e9a63a"/>
<circle cx="471.6" cy="1230.5" r="3.4" fill="#fff" stroke="#d5492c" stroke-width="1.75"/>
<circle cx="484.1" cy="1230.5" r="2.5" fill="#fff" stroke="#d5492c" stroke-width="1.7"/>
<circle cx="471.6" cy="1230.5" r="2.25" fill="#fff" stroke="#d5492c" stroke-width="1.6"/>
<circle cx="477.8" cy="1230.5" r="1.75" fill="#fff" stroke="#d5492c" stroke-width="1.5"/>
<circle cx="465.3" cy="1230.5" r="1.75" fill="#d5492c"/>
<circle cx="471.6" cy="1239.9" r="3.4" fill="#fff" stroke="#97622f" stroke-width="1.75"/>
<circle cx="509.0" cy="1239.9" r="2.5" fill="#fff" stroke="#97622f" stroke-width="1.7"/>
<circle cx="509.0" cy="1239.9" r="2.25" fill="#fff" stroke="#97622f" stroke-width="1.6"/>
<circle cx="509.0" cy="1239.9" r="1.75" fill="#fff" stroke="#97622f" stroke-width="1.5"/>
<circle cx="515.3" cy="1239.9" r="1.75" fill="#97622f"/>
<circle cx="471.6" cy="1249.3" r="3.4" fill="#fff" stroke="#b8466f" stroke-width="1.75"/>
<circle cx="509.0" cy="1249.3" r="2.5" fill="#fff" stroke="#b8466f" stroke-width="1.7"/>
<circle cx="477.8" cy="1249.3" r="2.25" fill="#fff" stroke="#b8466f" stroke-width="1.6"/>
<circle cx="465.3" cy="1249.3" r="1.75" fill="#fff" stroke="#b8466f" stroke-width="1.5"/>
<circle cx="484.1" cy="1249.3" r="1.75" fill="#b8466f"/>
<circle cx="471.6" cy="1258.7" r="3.4" fill="#fff" stroke="#97622f" stroke-width="1.75"/>
<circle cx="521.5" cy="1258.7" r="2.5" fill="#fff" stroke="#97622f" stroke-width="1.7"/>
<circle cx="515.3" cy="1258.7" r="2.25" fill="#fff" stroke="#97622f" stroke-width="1.6"/>
<circle cx="496.5" cy="1258.7" r="1.75" fill="#fff" stroke="#97622f" stroke-width="1.5"/>
<circle cx="502.8" cy="1258.7" r="1.75" fill="#97622f"/>
<circle cx="471.6" cy="1268.1" r="3.4" fill="#fff" stroke="#e9a63a" stroke-width="1.75"/>
<circle cx="527.7" cy="1268.1" r="2.5" fill="#fff" stroke="#e9a63a" stroke-width="1.7"/>
<circle cx="521.5" cy="1268.1" r="2.25" fill="#fff" stroke="#e9a63a" stroke-width="1.6"/>
<circle cx="540.2" cy="1268.1" r="1.75" fill="#fff" stroke="#e9a63a" stroke-width="1.5"/>
<circle cx="540.2" cy="1268.1" r="1.75" fill="#e9a63a"/>
<circle cx="477.8" cy="1277.5" r="3.4" fill="#fff" stroke="#b8466f" stroke-width="1.75"/>
<circle cx="515.3" cy="1277.5" r="2.5" fill="#fff" stroke="#b8466f" stroke-width="1.7"/>
<circle cx="490.3" cy="1277.5" r="2.25" fill="#fff" stroke="#b8466f" stroke-width="1.6"/>
<circle cx="490.3" cy="1277.5" r="1.75" fill="#fff" stroke="#b8466f" stroke-width="1.5"/>
<circle cx="490.3" cy="1277.5" r="1.75" fill="#b8466f"/>
<circle cx="477.8" cy="1286.9" r="3.4" fill="#fff" stroke="#b8466f" stroke-width="1.75"/>
<circle cx="509.0" cy="1286.9" r="2.5" fill="#fff" stroke="#b8466f" stroke-width="1.7"/>
<circle cx="521.5" cy="1286.9" r="2.25" fill="#fff" stroke="#b8466f" stroke-width="1.6"/>
<circle cx="540.2" cy="1286.9" r="1.75" fill="#fff" stroke="#b8466f" stroke-width="1.5"/>
<circle cx="552.7" cy="1286.9" r="1.75" fill="#b8466f"/>
<circle cx="477.8" cy="1296.3" r="3.4" fill="#fff" stroke="#4b4a22" stroke-width="1.75"/>
<circle cx="496.5" cy="1296.3" r="2.5" fill="#fff" stroke="#4b4a22" stroke-width="1.7"/>
<circle cx="484.1" cy="1296.3" r="2.25" fill="#fff" stroke="#4b4a22" stroke-width="1.6"/>
<circle cx="502.8" cy="1296.3" r="1.75" fill="#fff" stroke="#4b4a22" stroke-width="1.5"/>
<circle cx="502.8" cy="1296.3" r="1.75" fill="#4b4a22"/>
<circle cx="477.8" cy="1305.7" r="3.4" fill="#fff" stroke="#e9a63a" stroke-width="1.75"/>
<circle cx="490.3" cy="1305.7" r="2.5" fill="#fff" stroke="#e9a63a" stroke-width="1.7"/>
<circle cx="502.8" cy="1305.7" r="2.25" fill="#fff" stroke="#e9a63a" stroke-width="1.6"/>
<circle cx="502.8" cy="1305.7" r="1.75" fill="#fff" stroke="#e9a63a" stroke-width="1.5"/>
<circle cx="515.3" cy="1305.7" r="1.75" fill="#e9a63a"/>
<circle cx="477.8" cy="1315.1" r="3.4" fill="#fff" stroke="#97622f" stroke-width="1.75"/>
<circle cx="490.3" cy="1315.1" r="2.5" fill="#fff" stroke="#97622f" stroke-width="1.7"/>
<circle cx="515.3" cy="1315.1" r="2.25" fill="#fff" stroke="#97622f" stroke-width="1.6"/>
<circle cx="490.3" cy="1315.1" r="1.75" fill="#fff" stroke="#97622f" stroke-width="1.5"/>
<circle cx="465.3" cy="1315.1" r="1.75" fill="#97622f"/>
<circle cx="484.1" cy="1324.6" r="3.4" fill="#fff" stroke="#d5492c" stroke-width="1.75"/>
<circle cx="527.7" cy="1324.6" r="2.5" fill="#fff" stroke="#d5492c" stroke-width="1.7"/>
<circle cx="521.5" cy="1324.6" r="2.25" fill="#fff" stroke="#d5492c" stroke-width="1.6"/>
<circle cx="527.7" cy="1324.6" r="1.75" fill="#fff" stroke="#d5492c" stroke-width="1.5"/>
<circle cx="552.7" cy="1324.6" r="1.75" fill="#d5492c"/>
<circle cx="484.1" cy="1334.0" r="3.4" fill="#fff" stroke="#4b4a22" stroke-width="1.75"/>
<circle cx="527.7" cy="1334.0" r="2.5" fill="#fff" stroke="#4b4a22" stroke-width="1.7"/>
<circle cx="534.0" cy="1334.0" r="2.25" fill="#fff" stroke="#4b4a22" stroke-width="1.6"/>
<circle cx="521.5" cy="1334.0" r="1.75" fill="#fff" stroke="#4b4a22" stroke-width="1.5"/>
<circle cx="502.8" cy="1334.0" r="1.75" fill="#4b4a22"/>
<circle cx="484.1" cy="1343.4" r="3.4" fill="#fff" stroke="#97622f" stroke-width="1.75"/>
<circle cx="509.0" cy="1343.4" r="2.5" fill="#fff" stroke="#97622f" stroke-width="1.7"/>
<circle cx="509.0" cy="1343.4" r="2.25" fill="#fff" stroke="#97622f" stroke-width="1.6"/>
<circle cx="521.5" cy="1343.4" r="1.75" fill="#fff" stroke="#97622f" stroke-width="1.5"/>
<circle cx="515.3" cy="1343.4" r="1.75" fill="#97622f"/>
<circle cx="484.1" cy="1352.8" r="3.4" fill="#fff" stroke="#97622f" stroke-width="1.75"/>
<circle cx="521.5" cy="1352.8" r="2.5" fill="#fff" stroke="#97622f" stroke-width="1.7"/>
<circle cx="527.7" cy="1352.8" r="2.25" fill="#fff" stroke="#97622f" stroke-width="1.6"/>
<circle cx="540.2" cy="1352.8" r="1.75" fill="#fff" stroke="#97622f" stroke-width="1.5"/>
<circle cx="558.9" cy="1352.8" r="1.75" fill="#97622f"/>
<circle cx="484.1" cy="1362.2" r="3.4" fill="#fff" stroke="#e9a63a" stroke-width="1.75"/>
<circle cx="496.5" cy="1362.2" r="2.5" fill="#fff" stroke="#e9a63a" stroke-width="1.7"/>
<circle cx="509.0" cy="1362.2" r="2.25" fill="#fff" stroke="#e9a63a" stroke-width="1.6"/>
<circle cx="509.0" cy="1362.2" r="1.75" fill="#fff" stroke="#e9a63a" stroke-width="1.5"/>
<circle cx="509.0" cy="1362.2" r="1.75" fill="#e9a63a"/>
<circle cx="490.3" cy="1371.6" r="3.4" fill="#fff" stroke="#4b4a22" stroke-width="1.75"/>
<circle cx="521.5" cy="1371.6" r="2.5" fill="#fff" stroke="#4b4a22" stroke-width="1.7"/>
<circle cx="521.5" cy="1371.6" r="2.25" fill="#fff" stroke="#4b4a22" stroke-width="1.6"/>
<circle cx="521.5" cy="1371.6" r="1.75" fill="#fff" stroke="#4b4a22" stroke-width="1.5"/>
<circle cx="490.3" cy="1371.6" r="1.75" fill="#4b4a22"/>
<circle cx="490.3" cy="1381.0" r="3.4" fill="#fff" stroke="#97622f" stroke-width="1.75"/>
<circle cx="527.7" cy="1381.0" r="2.5" fill="#fff" stroke="#97622f" stroke-width="1.7"/>
<circle cx="527.7" cy="1381.0" r="2.25" fill="#fff" stroke="#97622f" stroke-width="1.6"/>
<circle cx="502.8" cy="1381.0" r="1.75" fill="#fff" stroke="#97622f" stroke-width="1.5"/>
<circle cx="509.0" cy="1381.0" r="1.75" fill="#97622f"/>
<circle cx="496.5" cy="1390.4" r="3.4" fill="#fff" stroke="#97622f" stroke-width="1.75"/>
<circle cx="540.2" cy="1390.4" r="2.5" fill="#fff" stroke="#97622f" stroke-width="1.7"/>
<circle cx="540.2" cy="1390.4" r="2.25" fill="#fff" stroke="#97622f" stroke-width="1.6"/>
<circle cx="546.5" cy="1390.4" r="1.75" fill="#fff" stroke="#97622f" stroke-width="1.5"/>
<circle cx="552.7" cy="1390.4" r="1.75" fill="#97622f"/>
<circle cx="496.5" cy="1399.8" r="3.4" fill="#fff" stroke="#b8466f" stroke-width="1.75"/>
<circle cx="521.5" cy="1399.8" r="2.5" fill="#fff" stroke="#b8466f" stroke-width="1.7"/>
<circle cx="521.5" cy="1399.8" r="2.25" fill="#fff" stroke="#b8466f" stroke-width="1.6"/>
<circle cx="521.5" cy="1399.8" r="1.75" fill="#fff" stroke="#b8466f" stroke-width="1.5"/>
<circle cx="521.5" cy="1399.8" r="1.75" fill="#b8466f"/>
<circle cx="496.5" cy="1409.2" r="3.4" fill="#fff" stroke="#97622f" stroke-width="1.75"/>
<circle cx="527.7" cy="1409.2" r="2.5" fill="#fff" stroke="#97622f" stroke-width="1.7"/>
<circle cx="521.5" cy="1409.2" r="2.25" fill="#fff" stroke="#97622f" stroke-width="1.6"/>
<circle cx="521.5" cy="1409.2" r="1.75" fill="#fff" stroke="#97622f" stroke-width="1.5"/>
<circle cx="515.3" cy="1409.2" r="1.75" fill="#97622f"/>
<circle cx="502.8" cy="1418.6" r="3.4" fill="#fff" stroke="#97622f" stroke-width="1.75"/>
<circle cx="527.7" cy="1418.6" r="2.5" fill="#fff" stroke="#97622f" stroke-width="1.7"/>
<circle cx="546.5" cy="1418.6" r="2.25" fill="#fff" stroke="#97622f" stroke-width="1.6"/>
<circle cx="534.0" cy="1418.6" r="1.75" fill="#fff" stroke="#97622f" stroke-width="1.5"/>
<circle cx="521.5" cy="1418.6" r="1.75" fill="#97622f"/>
<circle cx="502.8" cy="1428.0" r="3.4" fill="#fff" stroke="#b8466f" stroke-width="1.75"/>
<circle cx="521.5" cy="1428.0" r="2.5" fill="#fff" stroke="#b8466f" stroke-width="1.7"/>
<circle cx="509.0" cy="1428.0" r="2.25" fill="#fff" stroke="#b8466f" stroke-width="1.6"/>
<circle cx="515.3" cy="1428.0" r="1.75" fill="#fff" stroke="#b8466f" stroke-width="1.5"/>
<circle cx="515.3" cy="1428.0" r="1.75" fill="#b8466f"/>
<circle cx="502.8" cy="1437.4" r="3.4" fill="#fff" stroke="#b8466f" stroke-width="1.75"/>
<circle cx="515.3" cy="1437.4" r="2.5" fill="#fff" stroke="#b8466f" stroke-width="1.7"/>
<circle cx="527.7" cy="1437.4" r="2.25" fill="#fff" stroke="#b8466f" stroke-width="1.6"/>
<circle cx="521.5" cy="1437.4" r="1.75" fill="#fff" stroke="#b8466f" stroke-width="1.5"/>
<circle cx="515.3" cy="1437.4" r="1.75" fill="#b8466f"/>
<circle cx="502.8" cy="1446.8" r="3.4" fill="#fff" stroke="#4b4a22" stroke-width="1.75"/>
<circle cx="509.0" cy="1446.8" r="2.5" fill="#fff" stroke="#4b4a22" stroke-width="1.7"/>
<circle cx="540.2" cy="1446.8" r="2.25" fill="#fff" stroke="#4b4a22" stroke-width="1.6"/>
<circle cx="565.2" cy="1446.8" r="1.75" fill="#fff" stroke="#4b4a22" stroke-width="1.5"/>
<circle cx="534.0" cy="1446.8" r="1.75" fill="#4b4a22"/>
<circle cx="502.8" cy="1456.3" r="3.4" fill="#fff" stroke="#e9a63a" stroke-width="1.75"/>
<circle cx="509.0" cy="1456.3" r="2.5" fill="#fff" stroke="#e9a63a" stroke-width="1.7"/>
<circle cx="496.5" cy="1456.3" r="2.25" fill="#fff" stroke="#e9a63a" stroke-width="1.6"/>
<circle cx="509.0" cy="1456.3" r="1.75" fill="#fff" stroke="#e9a63a" stroke-width="1.5"/>
<circle cx="540.2" cy="1456.3" r="1.75" fill="#e9a63a"/>
<circle cx="502.8" cy="1465.7" r="3.4" fill="#fff" stroke="#e9a63a" stroke-width="1.75"/>
<circle cx="527.7" cy="1465.7" r="2.5" fill="#fff" stroke="#e9a63a" stroke-width="1.7"/>
<circle cx="546.5" cy="1465.7" r="2.25" fill="#fff" stroke="#e9a63a" stroke-width="1.6"/>
<circle cx="540.2" cy="1465.7" r="1.75" fill="#fff" stroke="#e9a63a" stroke-width="1.5"/>
<circle cx="546.5" cy="1465.7" r="1.75" fill="#e9a63a"/>
<circle cx="509.0" cy="1475.1" r="3.4" fill="#fff" stroke="#e9a63a" stroke-width="1.75"/>
<circle cx="527.7" cy="1475.1" r="2.5" fill="#fff" stroke="#e9a63a" stroke-width="1.7"/>
<circle cx="527.7" cy="1475.1" r="2.25" fill="#fff" stroke="#e9a63a" stroke-width="1.6"/>
<circle cx="534.0" cy="1475.1" r="1.75" fill="#fff" stroke="#e9a63a" stroke-width="1.5"/>
<circle cx="558.9" cy="1475.1" r="1.75" fill="#e9a63a"/>
<circle cx="509.0" cy="1484.5" r="3.4" fill="#fff" stroke="#97622f" stroke-width="1.75"/>
<circle cx="540.2" cy="1484.5" r="2.5" fill="#fff" stroke="#97622f" stroke-width="1.7"/>
<circle cx="546.5" cy="1484.5" r="2.25" fill="#fff" stroke="#97622f" stroke-width="1.6"/>
<circle cx="540.2" cy="1484.5" r="1.75" fill="#fff" stroke="#97622f" stroke-width="1.5"/>
<circle cx="546.5" cy="1484.5" r="1.75" fill="#97622f"/>
<circle cx="509.0" cy="1493.9" r="3.4" fill="#fff" stroke="#97622f" stroke-width="1.75"/>
<circle cx="540.2" cy="1493.9" r="2.5" fill="#fff" stroke="#97622f" stroke-width="1.7"/>
<circle cx="540.2" cy="1493.9" r="2.25" fill="#fff" stroke="#97622f" stroke-width="1.6"/>
<circle cx="534.0" cy="1493.9" r="1.75" fill="#fff" stroke="#97622f" stroke-width="1.5"/>
<circle cx="509.0" cy="1493.9" r="1.75" fill="#97622f"/>
<circle cx="509.0" cy="1503.3" r="3.4" fill="#fff" stroke="#97622f" stroke-width="1.75"/>
<circle cx="527.7" cy="1503.3" r="2.5" fill="#fff" stroke="#97622f" stroke-width="1.7"/>
<circle cx="527.7" cy="1503.3" r="2.25" fill="#fff" stroke="#97622f" stroke-width="1.6"/>
<circle cx="521.5" cy="1503.3" r="1.75" fill="#fff" stroke="#97622f" stroke-width="1.5"/>
<circle cx="509.0" cy="1503.3" r="1.75" fill="#97622f"/>
<circle cx="509.0" cy="1512.7" r="3.4" fill="#fff" stroke="#e9a63a" stroke-width="1.75"/>
<circle cx="521.5" cy="1512.7" r="2.5" fill="#fff" stroke="#e9a63a" stroke-width="1.7"/>
<circle cx="534.0" cy="1512.7" r="2.25" fill="#fff" stroke="#e9a63a" stroke-width="1.6"/>
<circle cx="527.7" cy="1512.7" r="1.75" fill="#fff" stroke="#e9a63a" stroke-width="1.5"/>
<circle cx="521.5" cy="1512.7" r="1.75" fill="#e9a63a"/>
<circle cx="515.3" cy="1522.1" r="3.4" fill="#fff" stroke="#e9a63a" stroke-width="1.75"/>
<circle cx="509.0" cy="1522.1" r="2.5" fill="#fff" stroke="#e9a63a" stroke-width="1.7"/>
<circle cx="527.7" cy="1522.1" r="2.25" fill="#fff" stroke="#e9a63a" stroke-width="1.6"/>
<circle cx="527.7" cy="1522.1" r="1.75" fill="#fff" stroke="#e9a63a" stroke-width="1.5"/>
<circle cx="546.5" cy="1522.1" r="1.75" fill="#e9a63a"/>
<circle cx="515.3" cy="1531.5" r="3.4" fill="#fff" stroke="#97622f" stroke-width="1.75"/>
<circle cx="521.5" cy="1531.5" r="2.5" fill="#fff" stroke="#97622f" stroke-width="1.7"/>
<circle cx="540.2" cy="1531.5" r="2.25" fill="#fff" stroke="#97622f" stroke-width="1.6"/>
<circle cx="540.2" cy="1531.5" r="1.75" fill="#fff" stroke="#97622f" stroke-width="1.5"/>
<circle cx="534.0" cy="1531.5" r="1.75" fill="#97622f"/>
<circle cx="515.3" cy="1540.9" r="3.4" fill="#fff" stroke="#97622f" stroke-width="1.75"/>
<circle cx="540.2" cy="1540.9" r="2.5" fill="#fff" stroke="#97622f" stroke-width="1.7"/>
<circle cx="546.5" cy="1540.9" r="2.25" fill="#fff" stroke="#97622f" stroke-width="1.6"/>
<circle cx="552.7" cy="1540.9" r="1.75" fill="#fff" stroke="#97622f" stroke-width="1.5"/>
<circle cx="552.7" cy="1540.9" r="1.75" fill="#97622f"/>
<circle cx="515.3" cy="1550.3" r="3.4" fill="#fff" stroke="#97622f" stroke-width="1.75"/>
<circle cx="540.2" cy="1550.3" r="2.5" fill="#fff" stroke="#97622f" stroke-width="1.7"/>
<circle cx="546.5" cy="1550.3" r="2.25" fill="#fff" stroke="#97622f" stroke-width="1.6"/>
<circle cx="558.9" cy="1550.3" r="1.75" fill="#fff" stroke="#97622f" stroke-width="1.5"/>
<circle cx="558.9" cy="1550.3" r="1.75" fill="#97622f"/>
<circle cx="515.3" cy="1559.7" r="3.4" fill="#fff" stroke="#4b4a22" stroke-width="1.75"/>
<circle cx="515.3" cy="1559.7" r="2.5" fill="#fff" stroke="#4b4a22" stroke-width="1.7"/>
<circle cx="521.5" cy="1559.7" r="2.25" fill="#fff" stroke="#4b4a22" stroke-width="1.6"/>
<circle cx="515.3" cy="1559.7" r="1.75" fill="#fff" stroke="#4b4a22" stroke-width="1.5"/>
<circle cx="546.5" cy="1559.7" r="1.75" fill="#4b4a22"/>
<circle cx="515.3" cy="1569.1" r="3.4" fill="#fff" stroke="#d5492c" stroke-width="1.75"/>
<circle cx="534.0" cy="1569.1" r="2.5" fill="#fff" stroke="#d5492c" stroke-width="1.7"/>
<circle cx="527.7" cy="1569.1" r="2.25" fill="#fff" stroke="#d5492c" stroke-width="1.6"/>
<circle cx="540.2" cy="1569.1" r="1.75" fill="#fff" stroke="#d5492c" stroke-width="1.5"/>
<circle cx="521.5" cy="1569.1" r="1.75" fill="#d5492c"/>
<circle cx="521.5" cy="1578.5" r="3.4" fill="#fff" stroke="#97622f" stroke-width="1.75"/>
<circle cx="521.5" cy="1578.5" r="2.5" fill="#fff" stroke="#97622f" stroke-width="1.7"/>
<circle cx="515.3" cy="1578.5" r="2.25" fill="#fff" stroke="#97622f" stroke-width="1.6"/>
<circle cx="515.3" cy="1578.5" r="1.75" fill="#fff" stroke="#97622f" stroke-width="1.5"/>
<circle cx="515.3" cy="1578.5" r="1.75" fill="#97622f"/>
<circle cx="521.5" cy="1588.0" r="3.4" fill="#fff" stroke="#97622f" stroke-width="1.75"/>
<circle cx="540.2" cy="1588.0" r="2.5" fill="#fff" stroke="#97622f" stroke-width="1.7"/>
<circle cx="546.5" cy="1588.0" r="2.25" fill="#fff" stroke="#97622f" stroke-width="1.6"/>
<circle cx="558.9" cy="1588.0" r="1.75" fill="#fff" stroke="#97622f" stroke-width="1.5"/>
<circle cx="558.9" cy="1588.0" r="1.75" fill="#97622f"/>
<circle cx="521.5" cy="1597.4" r="3.4" fill="#fff" stroke="#2579c6" stroke-width="1.75"/>
<circle cx="540.2" cy="1597.4" r="2.5" fill="#fff" stroke="#2579c6" stroke-width="1.7"/>
<circle cx="546.5" cy="1597.4" r="2.25" fill="#fff" stroke="#2579c6" stroke-width="1.6"/>
<circle cx="546.5" cy="1597.4" r="1.75" fill="#fff" stroke="#2579c6" stroke-width="1.5"/>
<circle cx="552.7" cy="1597.4" r="1.75" fill="#2579c6"/>
<circle cx="521.5" cy="1606.8" r="3.4" fill="#fff" stroke="#b8466f" stroke-width="1.75"/>
<circle cx="540.2" cy="1606.8" r="2.5" fill="#fff" stroke="#b8466f" stroke-width="1.7"/>
<circle cx="540.2" cy="1606.8" r="2.25" fill="#fff" stroke="#b8466f" stroke-width="1.6"/>
<circle cx="546.5" cy="1606.8" r="1.75" fill="#fff" stroke="#b8466f" stroke-width="1.5"/>
<circle cx="527.7" cy="1606.8" r="1.75" fill="#b8466f"/>
<circle cx="527.7" cy="1616.2" r="3.4" fill="#fff" stroke="#97622f" stroke-width="1.75"/>
<circle cx="546.5" cy="1616.2" r="2.5" fill="#fff" stroke="#97622f" stroke-width="1.7"/>
<circle cx="552.7" cy="1616.2" r="2.25" fill="#fff" stroke="#97622f" stroke-width="1.6"/>
<circle cx="565.2" cy="1616.2" r="1.75" fill="#fff" stroke="#97622f" stroke-width="1.5"/>
<circle cx="577.7" cy="1616.2" r="1.75" fill="#97622f"/>
<circle cx="527.7" cy="1625.6" r="3.4" fill="#fff" stroke="#e9a63a" stroke-width="1.75"/>
<circle cx="546.5" cy="1625.6" r="2.5" fill="#fff" stroke="#e9a63a" stroke-width="1.7"/>
<circle cx="552.7" cy="1625.6" r="2.25" fill="#fff" stroke="#e9a63a" stroke-width="1.6"/>
<circle cx="558.9" cy="1625.6" r="1.75" fill="#fff" stroke="#e9a63a" stroke-width="1.5"/>
<circle cx="565.2" cy="1625.6" r="1.75" fill="#e9a63a"/>
<circle cx="534.0" cy="1635.0" r="3.4" fill="#fff" stroke="#4b4a22" stroke-width="1.75"/>
<circle cx="546.5" cy="1635.0" r="2.5" fill="#fff" stroke="#4b4a22" stroke-width="1.7"/>
<circle cx="540.2" cy="1635.0" r="2.25" fill="#fff" stroke="#4b4a22" stroke-width="1.6"/>
<circle cx="546.5" cy="1635.0" r="1.75" fill="#fff" stroke="#4b4a22" stroke-width="1.5"/>
<circle cx="534.0" cy="1635.0" r="1.75" fill="#4b4a22"/>
<circle cx="540.2" cy="1644.4" r="3.4" fill="#fff" stroke="#97622f" stroke-width="1.75"/>
<circle cx="552.7" cy="1644.4" r="2.5" fill="#fff" stroke="#97622f" stroke-width="1.7"/>
<circle cx="558.9" cy="1644.4" r="2.25" fill="#fff" stroke="#97622f" stroke-width="1.6"/>
<circle cx="558.9" cy="1644.4" r="1.75" fill="#fff" stroke="#97622f" stroke-width="1.5"/>
<circle cx="558.9" cy="1644.4" r="1.75" fill="#97622f"/>
<circle cx="540.2" cy="1653.8" r="3.4" fill="#fff" stroke="#e9a63a" stroke-width="1.75"/>
<circle cx="546.5" cy="1653.8" r="2.5" fill="#fff" stroke="#e9a63a" stroke-width="1.7"/>
<circle cx="546.5" cy="1653.8" r="2.25" fill="#fff" stroke="#e9a63a" stroke-width="1.6"/>
<circle cx="552.7" cy="1653.8" r="1.75" fill="#fff" stroke="#e9a63a" stroke-width="1.5"/>
<circle cx="565.2" cy="1653.8" r="1.75" fill="#e9a63a"/>
<circle cx="540.2" cy="1663.2" r="3.4" fill="#fff" stroke="#e9a63a" stroke-width="1.75"/>
<circle cx="534.0" cy="1663.2" r="2.5" fill="#fff" stroke="#e9a63a" stroke-width="1.7"/>
<circle cx="546.5" cy="1663.2" r="2.25" fill="#fff" stroke="#e9a63a" stroke-width="1.6"/>
<circle cx="552.7" cy="1663.2" r="1.75" fill="#fff" stroke="#e9a63a" stroke-width="1.5"/>
<circle cx="552.7" cy="1663.2" r="1.75" fill="#e9a63a"/>
<circle cx="546.5" cy="1672.6" r="3.4" fill="#fff" stroke="#97622f" stroke-width="1.75"/>
<circle cx="552.7" cy="1672.6" r="2.5" fill="#fff" stroke="#97622f" stroke-width="1.7"/>
<circle cx="552.7" cy="1672.6" r="2.25" fill="#fff" stroke="#97622f" stroke-width="1.6"/>
<circle cx="558.9" cy="1672.6" r="1.75" fill="#fff" stroke="#97622f" stroke-width="1.5"/>
<circle cx="571.4" cy="1672.6" r="1.75" fill="#97622f"/>
<circle cx="546.5" cy="1682.0" r="3.4" fill="#fff" stroke="#e9a63a" stroke-width="1.75"/>
<circle cx="540.2" cy="1682.0" r="2.5" fill="#fff" stroke="#e9a63a" stroke-width="1.7"/>
<circle cx="546.5" cy="1682.0" r="2.25" fill="#fff" stroke="#e9a63a" stroke-width="1.6"/>
<circle cx="552.7" cy="1682.0" r="1.75" fill="#fff" stroke="#e9a63a" stroke-width="1.5"/>
<circle cx="552.7" cy="1682.0" r="1.75" fill="#e9a63a"/>
<circle cx="546.5" cy="1691.4" r="3.4" fill="#fff" stroke="#4b4a22" stroke-width="1.75"/>
<circle cx="552.7" cy="1691.4" r="2.5" fill="#fff" stroke="#4b4a22" stroke-width="1.7"/>
<circle cx="540.2" cy="1691.4" r="2.25" fill="#fff" stroke="#4b4a22" stroke-width="1.6"/>
<circle cx="521.5" cy="1691.4" r="1.75" fill="#fff" stroke="#4b4a22" stroke-width="1.5"/>
<circle cx="515.3" cy="1691.4" r="1.75" fill="#4b4a22"/>
<circle cx="552.7" cy="1700.8" r="3.4" fill="#fff" stroke="#97622f" stroke-width="1.75"/>
<circle cx="558.9" cy="1700.8" r="2.5" fill="#fff" stroke="#97622f" stroke-width="1.7"/>
<circle cx="558.9" cy="1700.8" r="2.25" fill="#fff" stroke="#97622f" stroke-width="1.6"/>
<circle cx="565.2" cy="1700.8" r="1.75" fill="#fff" stroke="#97622f" stroke-width="1.5"/>
<circle cx="571.4" cy="1700.8" r="1.75" fill="#97622f"/>
<circle cx="552.7" cy="1710.2" r="3.4" fill="#fff" stroke="#97622f" stroke-width="1.75"/>
<circle cx="540.2" cy="1710.2" r="2.5" fill="#fff" stroke="#97622f" stroke-width="1.7"/>
<circle cx="527.7" cy="1710.2" r="2.25" fill="#fff" stroke="#97622f" stroke-width="1.6"/>
<circle cx="540.2" cy="1710.2" r="1.75" fill="#fff" stroke="#97622f" stroke-width="1.5"/>
<circle cx="565.2" cy="1710.2" r="1.75" fill="#97622f"/>
<circle cx="558.9" cy="1719.6" r="3.4" fill="#fff" stroke="#97622f" stroke-width="1.75"/>
<circle cx="558.9" cy="1719.6" r="2.5" fill="#fff" stroke="#97622f" stroke-width="1.7"/>
<circle cx="565.2" cy="1719.6" r="2.25" fill="#fff" stroke="#97622f" stroke-width="1.6"/>
<circle cx="565.2" cy="1719.6" r="1.75" fill="#fff" stroke="#97622f" stroke-width="1.5"/>
<circle cx="558.9" cy="1719.6" r="1.75" fill="#97622f"/>
<circle cx="558.9" cy="1729.1" r="3.4" fill="#fff" stroke="#97622f" stroke-width="1.75"/>
<circle cx="552.7" cy="1729.1" r="2.5" fill="#fff" stroke="#97622f" stroke-width="1.7"/>
<circle cx="571.4" cy="1729.1" r="2.25" fill="#fff" stroke="#97622f" stroke-width="1.6"/>
<circle cx="577.7" cy="1729.1" r="1.75" fill="#fff" stroke="#97622f" stroke-width="1.5"/>
<circle cx="577.7" cy="1729.1" r="1.75" fill="#97622f"/>
<circle cx="558.9" cy="1738.5" r="3.4" fill="#fff" stroke="#b8466f" stroke-width="1.75"/>
<circle cx="565.2" cy="1738.5" r="2.5" fill="#fff" stroke="#b8466f" stroke-width="1.7"/>
<circle cx="540.2" cy="1738.5" r="2.25" fill="#fff" stroke="#b8466f" stroke-width="1.6"/>
<circle cx="565.2" cy="1738.5" r="1.75" fill="#fff" stroke="#b8466f" stroke-width="1.5"/>
<circle cx="590.1" cy="1738.5" r="1.75" fill="#b8466f"/>
<circle cx="558.9" cy="1747.9" r="3.4" fill="#fff" stroke="#b8466f" stroke-width="1.75"/>
<circle cx="558.9" cy="1747.9" r="2.5" fill="#fff" stroke="#b8466f" stroke-width="1.7"/>
<circle cx="552.7" cy="1747.9" r="2.25" fill="#fff" stroke="#b8466f" stroke-width="1.6"/>
<circle cx="558.9" cy="1747.9" r="1.75" fill="#fff" stroke="#b8466f" stroke-width="1.5"/>
<circle cx="558.9" cy="1747.9" r="1.75" fill="#b8466f"/>
<circle cx="565.2" cy="1757.3" r="3.4" fill="#fff" stroke="#4b4a22" stroke-width="1.75"/>
<circle cx="565.2" cy="1757.3" r="2.5" fill="#fff" stroke="#4b4a22" stroke-width="1.7"/>
<circle cx="583.9" cy="1757.3" r="2.25" fill="#fff" stroke="#4b4a22" stroke-width="1.6"/>
<circle cx="583.9" cy="1757.3" r="1.75" fill="#fff" stroke="#4b4a22" stroke-width="1.5"/>
<circle cx="596.4" cy="1757.3" r="1.75" fill="#4b4a22"/>
<circle cx="571.4" cy="1766.7" r="3.4" fill="#fff" stroke="#e9a63a" stroke-width="1.75"/>
<circle cx="577.7" cy="1766.7" r="2.5" fill="#fff" stroke="#e9a63a" stroke-width="1.7"/>
<circle cx="577.7" cy="1766.7" r="2.25" fill="#fff" stroke="#e9a63a" stroke-width="1.6"/>
<circle cx="565.2" cy="1766.7" r="1.75" fill="#fff" stroke="#e9a63a" stroke-width="1.5"/>
<circle cx="565.2" cy="1766.7" r="1.75" fill="#e9a63a"/>
<circle cx="571.4" cy="1776.1" r="3.4" fill="#fff" stroke="#e9a63a" stroke-width="1.75"/>
<circle cx="577.7" cy="1776.1" r="2.5" fill="#fff" stroke="#e9a63a" stroke-width="1.7"/>
<circle cx="577.7" cy="1776.1" r="2.25" fill="#fff" stroke="#e9a63a" stroke-width="1.6"/>
<circle cx="571.4" cy="1776.1" r="1.75" fill="#fff" stroke="#e9a63a" stroke-width="1.5"/>
<circle cx="565.2" cy="1776.1" r="1.75" fill="#e9a63a"/>
<circle cx="583.9" cy="1785.5" r="3.4" fill="#fff" stroke="#e9a63a" stroke-width="1.75"/>
<circle cx="583.9" cy="1785.5" r="2.5" fill="#fff" stroke="#e9a63a" stroke-width="1.7"/>
<circle cx="590.1" cy="1785.5" r="2.25" fill="#fff" stroke="#e9a63a" stroke-width="1.6"/>
<circle cx="590.1" cy="1785.5" r="1.75" fill="#fff" stroke="#e9a63a" stroke-width="1.5"/>
<circle cx="596.4" cy="1785.5" r="1.75" fill="#e9a63a"/>
<circle cx="596.4" cy="1794.9" r="3.4" fill="#fff" stroke="#4b4a22" stroke-width="1.75"/>
<circle cx="577.7" cy="1794.9" r="2.5" fill="#fff" stroke="#4b4a22" stroke-width="1.7"/>
<circle cx="577.7" cy="1794.9" r="2.25" fill="#fff" stroke="#4b4a22" stroke-width="1.6"/>
<circle cx="583.9" cy="1794.9" r="1.75" fill="#fff" stroke="#4b4a22" stroke-width="1.5"/>
<circle cx="577.7" cy="1794.9" r="1.75" fill="#4b4a22"/>
<circle cx="627.6" cy="1804.3" r="3.4" fill="#fff" stroke="#e9a63a" stroke-width="1.75"/>
<circle cx="583.9" cy="1804.3" r="2.5" fill="#fff" stroke="#e9a63a" stroke-width="1.7"/>
<circle cx="590.1" cy="1804.3" r="2.25" fill="#fff" stroke="#e9a63a" stroke-width="1.6"/>
<circle cx="596.4" cy="1804.3" r="1.75" fill="#fff" stroke="#e9a63a" stroke-width="1.5"/>
<circle cx="583.9" cy="1804.3" r="1.75" fill="#e9a63a"/>
<circle cx="627.6" cy="1813.7" r="3.4" fill="#fff" stroke="#e9a63a" stroke-width="1.75"/>
<circle cx="615.1" cy="1813.7" r="2.5" fill="#fff" stroke="#e9a63a" stroke-width="1.7"/>
<circle cx="627.6" cy="1823.1" r="3.4" fill="#fff" stroke="#4b4a22" stroke-width="1.75"/>
<circle cx="615.1" cy="1823.1" r="2.5" fill="#fff" stroke="#4b4a22" stroke-width="1.7"/>
<circle cx="608.9" cy="1823.1" r="2.25" fill="#fff" stroke="#4b4a22" stroke-width="1.6"/>
<circle cx="608.9" cy="1823.1" r="1.75" fill="#fff" stroke="#4b4a22" stroke-width="1.5"/>
<circle cx="615.1" cy="1823.1" r="1.75" fill="#4b4a22"/>
</g>
</svg></body></html>
